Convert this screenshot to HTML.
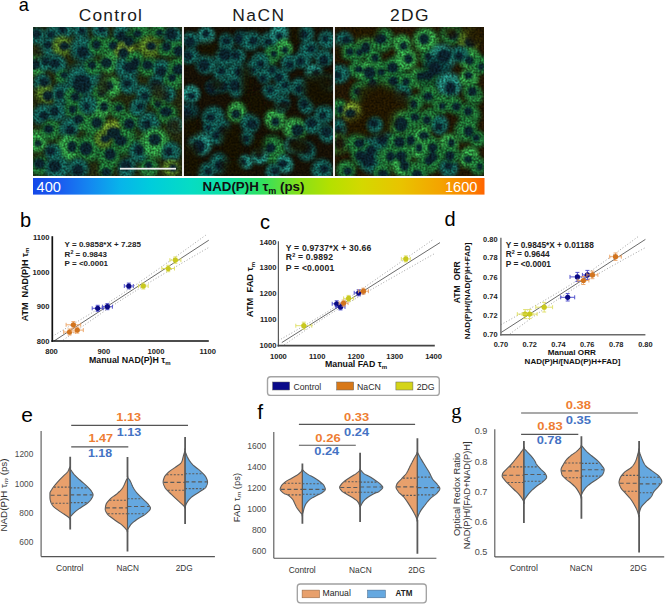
<!DOCTYPE html>
<html><head><meta charset="utf-8"><style>
html,body{margin:0;padding:0;background:#fff;}
body{width:669px;height:605px;overflow:hidden;position:relative;}
svg{position:absolute;left:0;top:0;font-family:"Liberation Sans", sans-serif;}
</style></head><body>
<svg width="669" height="605" viewBox="0 0 669 605">
<defs>
<filter id="blur1" x="-5%" y="-5%" width="110%" height="110%"><feGaussianBlur stdDeviation="1.1"/></filter>
<filter id="blur3" x="-30%" y="-30%" width="160%" height="160%"><feGaussianBlur stdDeviation="3"/></filter>
<filter id="speck" x="0" y="0" width="100%" height="100%"><feTurbulence type="fractalNoise" baseFrequency="0.45" numOctaves="2" seed="3"/><feColorMatrix type="matrix" values="0 0 0 0 0  0 0 0 0 0  0 0 0 0 0  0 0 0 -1.6 1.1"/><feComposite in2="SourceGraphic" operator="in"/></filter>
<radialGradient id="gAc1"><stop offset="0" stop-color="rgb(15,72,72)"/><stop offset="0.65" stop-color="rgb(15,72,72)" stop-opacity="0.92"/><stop offset="1" stop-color="rgb(8,39,39)" stop-opacity="0.3"/></radialGradient>
<radialGradient id="gAc2"><stop offset="0" stop-color="rgb(24,122,112)"/><stop offset="0.65" stop-color="rgb(24,122,112)" stop-opacity="0.92"/><stop offset="1" stop-color="rgb(13,67,61)" stop-opacity="0.3"/></radialGradient>
<radialGradient id="gAc3"><stop offset="0" stop-color="rgb(40,165,150)"/><stop offset="0.65" stop-color="rgb(40,165,150)" stop-opacity="0.92"/><stop offset="1" stop-color="rgb(22,90,82)" stop-opacity="0.3"/></radialGradient>
<radialGradient id="gAg1"><stop offset="0" stop-color="rgb(22,92,48)"/><stop offset="0.65" stop-color="rgb(22,92,48)" stop-opacity="0.92"/><stop offset="1" stop-color="rgb(12,50,26)" stop-opacity="0.3"/></radialGradient>
<radialGradient id="gAg2"><stop offset="0" stop-color="rgb(38,148,68)"/><stop offset="0.65" stop-color="rgb(38,148,68)" stop-opacity="0.92"/><stop offset="1" stop-color="rgb(20,81,37)" stop-opacity="0.3"/></radialGradient>
<radialGradient id="gAg3"><stop offset="0" stop-color="rgb(60,192,85)"/><stop offset="0.65" stop-color="rgb(60,192,85)" stop-opacity="0.92"/><stop offset="1" stop-color="rgb(33,105,46)" stop-opacity="0.3"/></radialGradient>
<radialGradient id="gAy1"><stop offset="0" stop-color="rgb(62,100,30)"/><stop offset="0.65" stop-color="rgb(62,100,30)" stop-opacity="0.92"/><stop offset="1" stop-color="rgb(34,55,16)" stop-opacity="0.3"/></radialGradient>
<radialGradient id="gAy2"><stop offset="0" stop-color="rgb(100,150,42)"/><stop offset="0.65" stop-color="rgb(100,150,42)" stop-opacity="0.92"/><stop offset="1" stop-color="rgb(55,82,23)" stop-opacity="0.3"/></radialGradient>
<radialGradient id="gAy3"><stop offset="0" stop-color="rgb(140,185,50)"/><stop offset="0.65" stop-color="rgb(140,185,50)" stop-opacity="0.92"/><stop offset="1" stop-color="rgb(77,101,27)" stop-opacity="0.3"/></radialGradient>
<filter id="speck" x="0" y="0" width="100%" height="100%"><feTurbulence type="fractalNoise" baseFrequency="0.45" numOctaves="2" seed="3"/><feColorMatrix type="matrix" values="0 0 0 0 0  0 0 0 0 0  0 0 0 0 0  0 0 0 -1.6 1.1"/><feComposite in2="SourceGraphic" operator="in"/></filter>
<radialGradient id="gBc1"><stop offset="0" stop-color="rgb(15,72,72)"/><stop offset="0.65" stop-color="rgb(15,72,72)" stop-opacity="0.92"/><stop offset="1" stop-color="rgb(8,39,39)" stop-opacity="0.3"/></radialGradient>
<radialGradient id="gBc2"><stop offset="0" stop-color="rgb(24,122,112)"/><stop offset="0.65" stop-color="rgb(24,122,112)" stop-opacity="0.92"/><stop offset="1" stop-color="rgb(13,67,61)" stop-opacity="0.3"/></radialGradient>
<radialGradient id="gBc3"><stop offset="0" stop-color="rgb(40,165,150)"/><stop offset="0.65" stop-color="rgb(40,165,150)" stop-opacity="0.92"/><stop offset="1" stop-color="rgb(22,90,82)" stop-opacity="0.3"/></radialGradient>
<radialGradient id="gBg1"><stop offset="0" stop-color="rgb(22,92,48)"/><stop offset="0.65" stop-color="rgb(22,92,48)" stop-opacity="0.92"/><stop offset="1" stop-color="rgb(12,50,26)" stop-opacity="0.3"/></radialGradient>
<radialGradient id="gBg2"><stop offset="0" stop-color="rgb(38,148,68)"/><stop offset="0.65" stop-color="rgb(38,148,68)" stop-opacity="0.92"/><stop offset="1" stop-color="rgb(20,81,37)" stop-opacity="0.3"/></radialGradient>
<radialGradient id="gBg3"><stop offset="0" stop-color="rgb(60,192,85)"/><stop offset="0.65" stop-color="rgb(60,192,85)" stop-opacity="0.92"/><stop offset="1" stop-color="rgb(33,105,46)" stop-opacity="0.3"/></radialGradient>
<radialGradient id="gBy1"><stop offset="0" stop-color="rgb(62,100,30)"/><stop offset="0.65" stop-color="rgb(62,100,30)" stop-opacity="0.92"/><stop offset="1" stop-color="rgb(34,55,16)" stop-opacity="0.3"/></radialGradient>
<radialGradient id="gBy2"><stop offset="0" stop-color="rgb(100,150,42)"/><stop offset="0.65" stop-color="rgb(100,150,42)" stop-opacity="0.92"/><stop offset="1" stop-color="rgb(55,82,23)" stop-opacity="0.3"/></radialGradient>
<radialGradient id="gBy3"><stop offset="0" stop-color="rgb(140,185,50)"/><stop offset="0.65" stop-color="rgb(140,185,50)" stop-opacity="0.92"/><stop offset="1" stop-color="rgb(77,101,27)" stop-opacity="0.3"/></radialGradient>
<filter id="speck" x="0" y="0" width="100%" height="100%"><feTurbulence type="fractalNoise" baseFrequency="0.45" numOctaves="2" seed="3"/><feColorMatrix type="matrix" values="0 0 0 0 0  0 0 0 0 0  0 0 0 0 0  0 0 0 -1.6 1.1"/><feComposite in2="SourceGraphic" operator="in"/></filter>
<radialGradient id="gCc1"><stop offset="0" stop-color="rgb(15,72,72)"/><stop offset="0.65" stop-color="rgb(15,72,72)" stop-opacity="0.92"/><stop offset="1" stop-color="rgb(8,39,39)" stop-opacity="0.3"/></radialGradient>
<radialGradient id="gCc2"><stop offset="0" stop-color="rgb(24,122,112)"/><stop offset="0.65" stop-color="rgb(24,122,112)" stop-opacity="0.92"/><stop offset="1" stop-color="rgb(13,67,61)" stop-opacity="0.3"/></radialGradient>
<radialGradient id="gCc3"><stop offset="0" stop-color="rgb(40,165,150)"/><stop offset="0.65" stop-color="rgb(40,165,150)" stop-opacity="0.92"/><stop offset="1" stop-color="rgb(22,90,82)" stop-opacity="0.3"/></radialGradient>
<radialGradient id="gCg1"><stop offset="0" stop-color="rgb(22,92,48)"/><stop offset="0.65" stop-color="rgb(22,92,48)" stop-opacity="0.92"/><stop offset="1" stop-color="rgb(12,50,26)" stop-opacity="0.3"/></radialGradient>
<radialGradient id="gCg2"><stop offset="0" stop-color="rgb(38,148,68)"/><stop offset="0.65" stop-color="rgb(38,148,68)" stop-opacity="0.92"/><stop offset="1" stop-color="rgb(20,81,37)" stop-opacity="0.3"/></radialGradient>
<radialGradient id="gCg3"><stop offset="0" stop-color="rgb(60,192,85)"/><stop offset="0.65" stop-color="rgb(60,192,85)" stop-opacity="0.92"/><stop offset="1" stop-color="rgb(33,105,46)" stop-opacity="0.3"/></radialGradient>
<radialGradient id="gCy1"><stop offset="0" stop-color="rgb(62,100,30)"/><stop offset="0.65" stop-color="rgb(62,100,30)" stop-opacity="0.92"/><stop offset="1" stop-color="rgb(34,55,16)" stop-opacity="0.3"/></radialGradient>
<radialGradient id="gCy2"><stop offset="0" stop-color="rgb(100,150,42)"/><stop offset="0.65" stop-color="rgb(100,150,42)" stop-opacity="0.92"/><stop offset="1" stop-color="rgb(55,82,23)" stop-opacity="0.3"/></radialGradient>
<radialGradient id="gCy3"><stop offset="0" stop-color="rgb(140,185,50)"/><stop offset="0.65" stop-color="rgb(140,185,50)" stop-opacity="0.92"/><stop offset="1" stop-color="rgb(77,101,27)" stop-opacity="0.3"/></radialGradient>
<clipPath id="clipA"><rect x="33" y="27" width="149" height="149"/></clipPath>
<filter id="granA" x="33" y="27" width="149" height="149" filterUnits="userSpaceOnUse" color-interpolation-filters="sRGB"><feTurbulence type="fractalNoise" baseFrequency="0.5" numOctaves="2" seed="3" result="n"/><feColorMatrix in="n" type="matrix" values="0 0 0 0 0  0 0 0 0 0  0 0 0 0 0  2.2 0 0 0 -0.6" result="na"/><feFlood flood-color="#fff"/><feComposite in2="na" operator="in" result="nw"/><feFlood flood-color="#000" result="blk"/><feComposite in="nw" in2="blk" operator="over" result="ng"/><feComposite in="SourceGraphic" in2="ng" operator="arithmetic" k1="0.6" k2="0.5" k3="0" k4="0"/></filter>
<clipPath id="clipB"><rect x="184" y="27" width="149" height="149"/></clipPath>
<filter id="granB" x="184" y="27" width="149" height="149" filterUnits="userSpaceOnUse" color-interpolation-filters="sRGB"><feTurbulence type="fractalNoise" baseFrequency="0.5" numOctaves="2" seed="8" result="n"/><feColorMatrix in="n" type="matrix" values="0 0 0 0 0  0 0 0 0 0  0 0 0 0 0  2.2 0 0 0 -0.6" result="na"/><feFlood flood-color="#fff"/><feComposite in2="na" operator="in" result="nw"/><feFlood flood-color="#000" result="blk"/><feComposite in="nw" in2="blk" operator="over" result="ng"/><feComposite in="SourceGraphic" in2="ng" operator="arithmetic" k1="0.6" k2="0.5" k3="0" k4="0"/></filter>
<clipPath id="clipC"><rect x="335" y="27" width="149" height="149"/></clipPath>
<filter id="granC" x="335" y="27" width="149" height="149" filterUnits="userSpaceOnUse" color-interpolation-filters="sRGB"><feTurbulence type="fractalNoise" baseFrequency="0.5" numOctaves="2" seed="13" result="n"/><feColorMatrix in="n" type="matrix" values="0 0 0 0 0  0 0 0 0 0  0 0 0 0 0  2.2 0 0 0 -0.6" result="na"/><feFlood flood-color="#fff"/><feComposite in2="na" operator="in" result="nw"/><feFlood flood-color="#000" result="blk"/><feComposite in="nw" in2="blk" operator="over" result="ng"/><feComposite in="SourceGraphic" in2="ng" operator="arithmetic" k1="0.6" k2="0.5" k3="0" k4="0"/></filter>
</defs>
<g clip-path="url(#clipA)">
<g filter="url(#granA)">
<rect x="33" y="27" width="149" height="149" fill="#2a3212"/>
<g filter="url(#blur1)">
<ellipse cx="37.0" cy="36.0" rx="9.8" ry="10.1" transform="rotate(166 37.0 36.0)" fill="url(#gAc2)"/>
<ellipse cx="53.0" cy="34.0" rx="9.9" ry="10.0" transform="rotate(106 53.0 34.0)" fill="url(#gAc2)"/>
<ellipse cx="64.0" cy="31.0" rx="9.1" ry="10.0" transform="rotate(113 64.0 31.0)" fill="url(#gAc2)"/>
<ellipse cx="80.0" cy="31.0" rx="10.7" ry="8.9" transform="rotate(55 80.0 31.0)" fill="url(#gAc2)"/>
<ellipse cx="100.0" cy="31.0" rx="8.9" ry="10.7" transform="rotate(125 100.0 31.0)" fill="url(#gAc2)"/>
<ellipse cx="122.0" cy="34.0" rx="10.2" ry="13.0" transform="rotate(174 122.0 34.0)" fill="url(#gAc2)"/>
<ellipse cx="140.0" cy="33.0" rx="12.1" ry="11.9" transform="rotate(28 140.0 33.0)" fill="url(#gAg2)"/>
<ellipse cx="158.0" cy="31.0" rx="8.7" ry="10.0" transform="rotate(11 158.0 31.0)" fill="url(#gAg2)"/>
<ellipse cx="173.0" cy="36.0" rx="10.7" ry="10.8" transform="rotate(5 173.0 36.0)" fill="url(#gAc2)"/>
<ellipse cx="49.0" cy="47.0" rx="11.5" ry="11.4" transform="rotate(152 49.0 47.0)" fill="url(#gAc2)"/>
<ellipse cx="62.0" cy="46.0" rx="11.7" ry="12.0" transform="rotate(90 62.0 46.0)" fill="url(#gAy2)"/>
<ellipse cx="83.0" cy="49.0" rx="15.5" ry="14.8" transform="rotate(50 83.0 49.0)" fill="url(#gAc2)"/>
<ellipse cx="98.0" cy="46.0" rx="11.2" ry="11.2" transform="rotate(151 98.0 46.0)" fill="url(#gAg2)"/>
<ellipse cx="111.0" cy="47.0" rx="12.2" ry="11.1" transform="rotate(41 111.0 47.0)" fill="url(#gAg2)"/>
<ellipse cx="127.0" cy="40.0" rx="11.0" ry="10.3" transform="rotate(138 127.0 40.0)" fill="url(#gAg1)"/>
<ellipse cx="125.0" cy="51.0" rx="11.3" ry="12.6" transform="rotate(70 125.0 51.0)" fill="url(#gAy3)"/>
<ellipse cx="149.0" cy="47.0" rx="13.0" ry="12.6" transform="rotate(0 149.0 47.0)" fill="url(#gAy2)"/>
<ellipse cx="167.0" cy="49.0" rx="9.2" ry="11.0" transform="rotate(85 167.0 49.0)" fill="url(#gAg2)"/>
<ellipse cx="178.0" cy="49.0" rx="11.2" ry="9.7" transform="rotate(13 178.0 49.0)" fill="url(#gAg2)"/>
<ellipse cx="37.0" cy="65.0" rx="12.0" ry="12.4" transform="rotate(49 37.0 65.0)" fill="url(#gAg3)"/>
<ellipse cx="44.0" cy="63.0" rx="8.9" ry="9.5" transform="rotate(174 44.0 63.0)" fill="url(#gAc2)"/>
<ellipse cx="57.0" cy="64.0" rx="12.4" ry="10.5" transform="rotate(44 57.0 64.0)" fill="url(#gAc2)"/>
<ellipse cx="63.0" cy="77.0" rx="8.9" ry="8.8" transform="rotate(143 63.0 77.0)" fill="url(#gAg2)"/>
<ellipse cx="84.0" cy="80.0" rx="19.8" ry="21.9" transform="rotate(81 84.0 80.0)" fill="url(#gAc2)"/>
<ellipse cx="109.0" cy="63.0" rx="10.7" ry="12.3" transform="rotate(24 109.0 63.0)" fill="url(#gAg3)"/>
<ellipse cx="127.0" cy="68.0" rx="15.5" ry="13.5" transform="rotate(76 127.0 68.0)" fill="url(#gAc2)"/>
<ellipse cx="135.0" cy="60.0" rx="10.7" ry="10.9" transform="rotate(175 135.0 60.0)" fill="url(#gAg2)"/>
<ellipse cx="149.0" cy="67.0" rx="12.5" ry="11.0" transform="rotate(159 149.0 67.0)" fill="url(#gAg2)"/>
<ellipse cx="162.0" cy="69.0" rx="10.7" ry="11.3" transform="rotate(154 162.0 69.0)" fill="url(#gAc2)"/>
<ellipse cx="178.0" cy="67.0" rx="12.0" ry="10.4" transform="rotate(178 178.0 67.0)" fill="url(#gAg2)"/>
<ellipse cx="111.0" cy="87.0" rx="12.3" ry="12.4" transform="rotate(139 111.0 87.0)" fill="url(#gAg3)"/>
<ellipse cx="129.0" cy="85.0" rx="11.1" ry="11.0" transform="rotate(13 129.0 85.0)" fill="url(#gAc2)"/>
<ellipse cx="158.0" cy="83.0" rx="10.4" ry="11.8" transform="rotate(44 158.0 83.0)" fill="url(#gAc2)"/>
<ellipse cx="173.0" cy="80.0" rx="11.9" ry="11.2" transform="rotate(82 173.0 80.0)" fill="url(#gAg2)"/>
<ellipse cx="42.0" cy="83.0" rx="11.1" ry="9.9" transform="rotate(103 42.0 83.0)" fill="url(#gAc2)"/>
<ellipse cx="46.0" cy="94.0" rx="12.7" ry="10.7" transform="rotate(28 46.0 94.0)" fill="url(#gAy2)"/>
<ellipse cx="62.0" cy="94.0" rx="12.8" ry="12.5" transform="rotate(45 62.0 94.0)" fill="url(#gAc2)"/>
<ellipse cx="100.0" cy="94.0" rx="9.2" ry="10.6" transform="rotate(169 100.0 94.0)" fill="url(#gAg2)"/>
<ellipse cx="144.0" cy="94.0" rx="9.2" ry="11.1" transform="rotate(159 144.0 94.0)" fill="url(#gAc2)"/>
<ellipse cx="167.0" cy="94.0" rx="10.2" ry="9.7" transform="rotate(19 167.0 94.0)" fill="url(#gAc2)"/>
<ellipse cx="42.0" cy="114.0" rx="10.2" ry="13.0" transform="rotate(43 42.0 114.0)" fill="url(#gAc2)"/>
<ellipse cx="57.0" cy="112.0" rx="12.2" ry="10.9" transform="rotate(148 57.0 112.0)" fill="url(#gAc2)"/>
<ellipse cx="75.0" cy="110.0" rx="11.9" ry="11.0" transform="rotate(32 75.0 110.0)" fill="url(#gAg2)"/>
<ellipse cx="80.0" cy="121.0" rx="12.3" ry="10.3" transform="rotate(41 80.0 121.0)" fill="url(#gAg3)"/>
<ellipse cx="95.0" cy="125.0" rx="13.5" ry="14.5" transform="rotate(111 95.0 125.0)" fill="url(#gAg2)"/>
<ellipse cx="102.0" cy="108.0" rx="10.9" ry="12.8" transform="rotate(37 102.0 108.0)" fill="url(#gAg3)"/>
<ellipse cx="113.0" cy="130.0" rx="11.6" ry="12.5" transform="rotate(80 113.0 130.0)" fill="url(#gAy3)"/>
<ellipse cx="129.0" cy="121.0" rx="11.8" ry="12.2" transform="rotate(66 129.0 121.0)" fill="url(#gAg2)"/>
<ellipse cx="118.0" cy="110.0" rx="10.1" ry="9.0" transform="rotate(65 118.0 110.0)" fill="url(#gAg2)"/>
<ellipse cx="149.0" cy="123.0" rx="12.8" ry="13.0" transform="rotate(118 149.0 123.0)" fill="url(#gAc2)"/>
<ellipse cx="167.0" cy="114.0" rx="12.2" ry="11.9" transform="rotate(25 167.0 114.0)" fill="url(#gAg2)"/>
<ellipse cx="176.0" cy="125.0" rx="8.8" ry="8.7" transform="rotate(164 176.0 125.0)" fill="url(#gAc3)"/>
<ellipse cx="37.0" cy="141.0" rx="12.2" ry="13.0" transform="rotate(4 37.0 141.0)" fill="url(#gAg3)"/>
<ellipse cx="51.0" cy="130.0" rx="12.0" ry="11.5" transform="rotate(131 51.0 130.0)" fill="url(#gAg2)"/>
<ellipse cx="69.0" cy="128.0" rx="11.1" ry="13.1" transform="rotate(14 69.0 128.0)" fill="url(#gAc2)"/>
<ellipse cx="69.0" cy="148.0" rx="15.1" ry="15.8" transform="rotate(162 69.0 148.0)" fill="url(#gAg3)"/>
<ellipse cx="89.0" cy="148.0" rx="15.8" ry="15.7" transform="rotate(143 89.0 148.0)" fill="url(#gAg2)"/>
<ellipse cx="124.0" cy="141.0" rx="16.5" ry="14.4" transform="rotate(123 124.0 141.0)" fill="url(#gAg2)"/>
<ellipse cx="140.0" cy="152.0" rx="12.8" ry="12.7" transform="rotate(75 140.0 152.0)" fill="url(#gAc2)"/>
<ellipse cx="155.0" cy="143.0" rx="17.8" ry="18.1" transform="rotate(103 155.0 143.0)" fill="url(#gAg3)"/>
<ellipse cx="171.0" cy="152.0" rx="12.0" ry="11.3" transform="rotate(105 171.0 152.0)" fill="url(#gAc2)"/>
<ellipse cx="40.0" cy="166.0" rx="11.9" ry="10.4" transform="rotate(115 40.0 166.0)" fill="url(#gAg2)"/>
<ellipse cx="57.0" cy="168.0" rx="14.9" ry="14.6" transform="rotate(131 57.0 168.0)" fill="url(#gAc2)"/>
<ellipse cx="78.0" cy="168.0" rx="11.3" ry="12.3" transform="rotate(105 78.0 168.0)" fill="url(#gAc2)"/>
<ellipse cx="109.0" cy="157.0" rx="13.1" ry="14.4" transform="rotate(15 109.0 157.0)" fill="url(#gAg2)"/>
<ellipse cx="127.0" cy="168.0" rx="12.3" ry="10.2" transform="rotate(108 127.0 168.0)" fill="url(#gAc2)"/>
<ellipse cx="149.0" cy="168.0" rx="11.5" ry="10.8" transform="rotate(126 149.0 168.0)" fill="url(#gAg2)"/>
<ellipse cx="171.0" cy="168.0" rx="9.9" ry="10.2" transform="rotate(166 171.0 168.0)" fill="url(#gAy2)"/>
<ellipse cx="106.0" cy="170.0" rx="9.3" ry="8.7" transform="rotate(54 106.0 170.0)" fill="url(#gAg2)"/>
<ellipse cx="93.0" cy="67.0" rx="10.4" ry="9.2" transform="rotate(31 93.0 67.0)" fill="url(#gAg2)"/>
<ellipse cx="73.0" cy="97.0" rx="11.0" ry="10.4" transform="rotate(80 73.0 97.0)" fill="url(#gAg2)"/>
<ellipse cx="138.0" cy="107.0" rx="10.9" ry="9.5" transform="rotate(120 138.0 107.0)" fill="url(#gAc2)"/>
<ellipse cx="158.0" cy="102.0" rx="9.2" ry="9.8" transform="rotate(145 158.0 102.0)" fill="url(#gAg2)"/>
<ellipse cx="88.0" cy="105.0" rx="11.0" ry="10.9" transform="rotate(69 88.0 105.0)" fill="url(#gAc2)"/>
<ellipse cx="53.0" cy="152.0" rx="10.2" ry="9.5" transform="rotate(25 53.0 152.0)" fill="url(#gAc2)"/>
<ellipse cx="103.0" cy="139.0" rx="9.9" ry="10.8" transform="rotate(153 103.0 139.0)" fill="url(#gAy2)"/>
<ellipse cx="36.5" cy="34.0" rx="4.9" ry="4.7" fill="rgb(8,38,52)" opacity="0.95"/>
<ellipse cx="51.0" cy="34.6" rx="3.8" ry="4.0" fill="rgb(8,38,52)" opacity="0.95"/>
<ellipse cx="62.5" cy="29.5" rx="4.2" ry="4.8" fill="rgb(8,38,52)" opacity="0.95"/>
<ellipse cx="82.1" cy="30.8" rx="3.9" ry="3.9" fill="rgb(8,38,52)" opacity="0.95"/>
<ellipse cx="101.5" cy="29.5" rx="3.9" ry="3.8" fill="rgb(8,38,52)" opacity="0.95"/>
<ellipse cx="121.1" cy="36.3" rx="5.1" ry="5.2" fill="rgb(8,38,52)" opacity="0.95"/>
<ellipse cx="137.6" cy="33.7" rx="4.7" ry="4.1" fill="rgb(8,38,52)" opacity="0.95"/>
<ellipse cx="159.3" cy="32.6" rx="3.9" ry="3.7" fill="rgb(8,38,52)" opacity="0.95"/>
<ellipse cx="171.3" cy="34.2" rx="5.9" ry="6.1" fill="rgb(8,38,52)" opacity="0.95"/>
<ellipse cx="48.0" cy="44.8" rx="4.6" ry="4.3" fill="rgb(8,38,52)" opacity="0.95"/>
<ellipse cx="64.4" cy="46.2" rx="5.4" ry="4.7" fill="rgb(8,38,52)" opacity="0.95"/>
<ellipse cx="82.6" cy="52.1" rx="6.6" ry="6.4" fill="rgb(8,38,52)" opacity="0.95"/>
<ellipse cx="96.4" cy="44.6" rx="4.7" ry="5.2" fill="rgb(8,38,52)" opacity="0.95"/>
<ellipse cx="113.0" cy="45.6" rx="4.9" ry="4.7" fill="rgb(8,38,52)" opacity="0.95"/>
<ellipse cx="128.7" cy="41.8" rx="5.3" ry="5.6" fill="rgb(8,38,52)" opacity="0.95"/>
<ellipse cx="123.3" cy="52.7" rx="5.8" ry="5.7" fill="rgb(8,38,52)" opacity="0.95"/>
<ellipse cx="151.3" cy="46.2" rx="5.3" ry="4.8" fill="rgb(8,38,52)" opacity="0.95"/>
<ellipse cx="166.6" cy="46.9" rx="5.1" ry="5.2" fill="rgb(8,38,52)" opacity="0.95"/>
<ellipse cx="178.5" cy="51.0" rx="5.7" ry="5.7" fill="rgb(8,38,52)" opacity="0.95"/>
<ellipse cx="34.6" cy="64.4" rx="5.5" ry="6.3" fill="rgb(8,38,52)" opacity="0.95"/>
<ellipse cx="45.3" cy="61.3" rx="3.8" ry="4.2" fill="rgb(8,38,52)" opacity="0.95"/>
<ellipse cx="54.7" cy="63.2" rx="5.7" ry="5.0" fill="rgb(8,38,52)" opacity="0.95"/>
<ellipse cx="63.8" cy="75.0" rx="4.1" ry="3.5" fill="rgb(8,38,52)" opacity="0.95"/>
<ellipse cx="81.7" cy="83.9" rx="9.7" ry="9.7" fill="rgb(8,38,52)" opacity="0.95"/>
<ellipse cx="106.6" cy="62.8" rx="6.1" ry="5.9" fill="rgb(8,38,52)" opacity="0.95"/>
<ellipse cx="130.0" cy="66.9" rx="7.4" ry="6.0" fill="rgb(8,38,52)" opacity="0.95"/>
<ellipse cx="135.4" cy="62.4" rx="5.0" ry="5.5" fill="rgb(8,38,52)" opacity="0.95"/>
<ellipse cx="147.4" cy="65.1" rx="5.7" ry="5.3" fill="rgb(8,38,52)" opacity="0.95"/>
<ellipse cx="161.1" cy="71.3" rx="5.4" ry="5.5" fill="rgb(8,38,52)" opacity="0.95"/>
<ellipse cx="178.6" cy="69.4" rx="6.5" ry="5.9" fill="rgb(8,38,52)" opacity="0.95"/>
<ellipse cx="108.5" cy="85.8" rx="5.4" ry="5.3" fill="rgb(8,38,52)" opacity="0.95"/>
<ellipse cx="127.1" cy="83.5" rx="4.9" ry="4.4" fill="rgb(8,38,52)" opacity="0.95"/>
<ellipse cx="156.0" cy="84.4" rx="5.8" ry="5.7" fill="rgb(8,38,52)" opacity="0.95"/>
<ellipse cx="172.1" cy="77.7" rx="4.5" ry="4.3" fill="rgb(8,38,52)" opacity="0.95"/>
<ellipse cx="44.0" cy="82.4" rx="4.8" ry="5.1" fill="rgb(8,38,52)" opacity="0.95"/>
<ellipse cx="47.7" cy="95.8" rx="5.5" ry="5.6" fill="rgb(8,38,52)" opacity="0.95"/>
<ellipse cx="59.6" cy="94.4" rx="4.5" ry="5.0" fill="rgb(8,38,52)" opacity="0.95"/>
<ellipse cx="101.9" cy="93.0" rx="4.2" ry="3.4" fill="rgb(8,38,52)" opacity="0.95"/>
<ellipse cx="144.7" cy="96.0" rx="4.2" ry="3.9" fill="rgb(8,38,52)" opacity="0.95"/>
<ellipse cx="165.7" cy="95.7" rx="4.2" ry="4.9" fill="rgb(8,38,52)" opacity="0.95"/>
<ellipse cx="43.8" cy="115.7" rx="4.9" ry="4.8" fill="rgb(8,38,52)" opacity="0.95"/>
<ellipse cx="54.6" cy="111.5" rx="4.9" ry="5.0" fill="rgb(8,38,52)" opacity="0.95"/>
<ellipse cx="72.6" cy="109.6" rx="4.3" ry="4.7" fill="rgb(8,38,52)" opacity="0.95"/>
<ellipse cx="78.4" cy="119.1" rx="5.7" ry="5.4" fill="rgb(8,38,52)" opacity="0.95"/>
<ellipse cx="96.7" cy="122.8" rx="5.7" ry="5.8" fill="rgb(8,38,52)" opacity="0.95"/>
<ellipse cx="104.0" cy="106.6" rx="4.7" ry="5.4" fill="rgb(8,38,52)" opacity="0.95"/>
<ellipse cx="113.6" cy="132.7" rx="7.6" ry="6.3" fill="rgb(8,38,52)" opacity="0.95"/>
<ellipse cx="129.2" cy="123.8" rx="6.0" ry="5.8" fill="rgb(8,38,52)" opacity="0.95"/>
<ellipse cx="119.0" cy="108.2" rx="4.6" ry="3.9" fill="rgb(8,38,52)" opacity="0.95"/>
<ellipse cx="147.0" cy="124.4" rx="4.9" ry="5.1" fill="rgb(8,38,52)" opacity="0.95"/>
<ellipse cx="166.0" cy="111.8" rx="6.6" ry="5.4" fill="rgb(8,38,52)" opacity="0.95"/>
<ellipse cx="173.9" cy="124.9" rx="4.9" ry="5.1" fill="rgb(8,38,52)" opacity="0.95"/>
<ellipse cx="37.9" cy="143.3" rx="4.0" ry="3.9" fill="rgb(8,38,52)" opacity="0.95"/>
<ellipse cx="48.7" cy="129.2" rx="5.3" ry="4.8" fill="rgb(8,38,52)" opacity="0.95"/>
<ellipse cx="70.0" cy="130.2" rx="5.1" ry="5.2" fill="rgb(8,38,52)" opacity="0.95"/>
<ellipse cx="71.8" cy="146.6" rx="5.1" ry="6.4" fill="rgb(8,38,52)" opacity="0.95"/>
<ellipse cx="85.9" cy="148.7" rx="7.0" ry="7.2" fill="rgb(8,38,52)" opacity="0.95"/>
<ellipse cx="120.9" cy="140.7" rx="6.7" ry="5.8" fill="rgb(8,38,52)" opacity="0.95"/>
<ellipse cx="139.3" cy="149.7" rx="5.4" ry="5.8" fill="rgb(8,38,52)" opacity="0.95"/>
<ellipse cx="154.8" cy="139.5" rx="6.7" ry="6.6" fill="rgb(8,38,52)" opacity="0.95"/>
<ellipse cx="168.6" cy="151.8" rx="4.7" ry="4.7" fill="rgb(8,38,52)" opacity="0.95"/>
<ellipse cx="39.3" cy="163.7" rx="6.0" ry="5.7" fill="rgb(8,38,52)" opacity="0.95"/>
<ellipse cx="54.7" cy="166.4" rx="6.7" ry="6.4" fill="rgb(8,38,52)" opacity="0.95"/>
<ellipse cx="77.9" cy="170.4" rx="6.3" ry="6.3" fill="rgb(8,38,52)" opacity="0.95"/>
<ellipse cx="110.1" cy="154.4" rx="6.3" ry="6.3" fill="rgb(8,38,52)" opacity="0.95"/>
<ellipse cx="126.2" cy="165.7" rx="6.0" ry="5.6" fill="rgb(8,38,52)" opacity="0.95"/>
<ellipse cx="148.6" cy="165.6" rx="4.3" ry="4.4" fill="rgb(8,38,52)" opacity="0.95"/>
<ellipse cx="173.1" cy="168.1" rx="4.4" ry="4.4" fill="rgb(8,38,52)" opacity="0.95"/>
<ellipse cx="106.2" cy="172.1" rx="5.4" ry="4.9" fill="rgb(8,38,52)" opacity="0.95"/>
<ellipse cx="91.9" cy="65.2" rx="4.6" ry="4.4" fill="rgb(8,38,52)" opacity="0.95"/>
<ellipse cx="75.1" cy="97.0" rx="4.9" ry="5.0" fill="rgb(8,38,52)" opacity="0.95"/>
<ellipse cx="140.1" cy="106.7" rx="3.8" ry="3.9" fill="rgb(8,38,52)" opacity="0.95"/>
<ellipse cx="157.9" cy="104.1" rx="3.8" ry="4.0" fill="rgb(8,38,52)" opacity="0.95"/>
<ellipse cx="86.5" cy="106.5" rx="3.6" ry="4.2" fill="rgb(8,38,52)" opacity="0.95"/>
<ellipse cx="51.0" cy="151.4" rx="5.0" ry="4.5" fill="rgb(8,38,52)" opacity="0.95"/>
<ellipse cx="105.1" cy="138.9" rx="5.0" ry="4.2" fill="rgb(8,38,52)" opacity="0.95"/>
</g>
<polygon points="99.5,76.3 106.9,73.8 108.1,91.0 102.0,98.4 97.0,88.6" fill="#2a3212" opacity="0.9" filter="url(#blur3)"/>
<polygon points="151.2,83.6 166.0,84.9 166.0,100.9 153.7,100.9" fill="#2a3212" opacity="0.9" filter="url(#blur3)"/>
<polygon points="33.0,46.7 42.9,47.9 41.6,59.0 33.0,57.8" fill="#2a3212" opacity="0.9" filter="url(#blur3)"/>
<polygon points="166.0,120.6 182.0,118.1 182.0,137.8 170.9,135.4" fill="#2a3212" opacity="0.9" filter="url(#blur3)"/>
</g>
</g>
<g clip-path="url(#clipB)">
<g filter="url(#granB)">
<rect x="184" y="27" width="149" height="149" fill="#1c1406"/>
<g filter="url(#blur1)">
<ellipse cx="206.0" cy="36.0" rx="10.5" ry="10.9" transform="rotate(8 206.0 36.0)" fill="url(#gBc3)"/>
<ellipse cx="226.0" cy="43.0" rx="11.4" ry="9.3" transform="rotate(85 226.0 43.0)" fill="url(#gBc2)"/>
<ellipse cx="191.0" cy="40.0" rx="9.4" ry="10.2" transform="rotate(110 191.0 40.0)" fill="url(#gBc2)"/>
<ellipse cx="190.0" cy="56.0" rx="9.1" ry="11.4" transform="rotate(76 190.0 56.0)" fill="url(#gBc2)"/>
<ellipse cx="206.0" cy="64.0" rx="12.0" ry="12.2" transform="rotate(66 206.0 64.0)" fill="url(#gBc2)"/>
<ellipse cx="224.0" cy="57.0" rx="11.3" ry="12.4" transform="rotate(101 224.0 57.0)" fill="url(#gBc2)"/>
<ellipse cx="237.0" cy="57.0" rx="9.7" ry="10.8" transform="rotate(53 237.0 57.0)" fill="url(#gBc2)"/>
<ellipse cx="241.0" cy="38.0" rx="9.0" ry="9.6" transform="rotate(8 241.0 38.0)" fill="url(#gBc1)"/>
<ellipse cx="251.0" cy="41.0" rx="10.9" ry="12.7" transform="rotate(70 251.0 41.0)" fill="url(#gBc2)"/>
<ellipse cx="270.0" cy="41.0" rx="11.3" ry="10.9" transform="rotate(9 270.0 41.0)" fill="url(#gBc2)"/>
<ellipse cx="280.0" cy="34.0" rx="11.5" ry="11.4" transform="rotate(13 280.0 34.0)" fill="url(#gBc3)"/>
<ellipse cx="284.0" cy="48.0" rx="11.3" ry="10.1" transform="rotate(86 284.0 48.0)" fill="url(#gBg3)"/>
<ellipse cx="272.0" cy="55.0" rx="11.5" ry="9.6" transform="rotate(94 272.0 55.0)" fill="url(#gBg2)"/>
<ellipse cx="260.0" cy="62.0" rx="11.4" ry="10.8" transform="rotate(84 260.0 62.0)" fill="url(#gBc2)"/>
<ellipse cx="253.0" cy="68.0" rx="9.6" ry="9.2" transform="rotate(109 253.0 68.0)" fill="url(#gBc2)"/>
<ellipse cx="272.0" cy="72.0" rx="7.7" ry="8.8" transform="rotate(82 272.0 72.0)" fill="url(#gBc2)"/>
<ellipse cx="281.0" cy="77.0" rx="9.5" ry="9.1" transform="rotate(95 281.0 77.0)" fill="url(#gBc2)"/>
<ellipse cx="264.0" cy="77.0" rx="7.7" ry="8.4" transform="rotate(120 264.0 77.0)" fill="url(#gBc2)"/>
<ellipse cx="289.0" cy="63.0" rx="10.1" ry="9.6" transform="rotate(105 289.0 63.0)" fill="url(#gBc2)"/>
<ellipse cx="302.0" cy="60.0" rx="10.0" ry="11.0" transform="rotate(96 302.0 60.0)" fill="url(#gBc2)"/>
<ellipse cx="309.0" cy="49.0" rx="11.5" ry="11.4" transform="rotate(132 309.0 49.0)" fill="url(#gBc2)"/>
<ellipse cx="306.0" cy="34.0" rx="9.6" ry="9.2" transform="rotate(161 306.0 34.0)" fill="url(#gBc2)"/>
<ellipse cx="327.0" cy="40.0" rx="11.0" ry="10.6" transform="rotate(65 327.0 40.0)" fill="url(#gBc2)"/>
<ellipse cx="324.0" cy="58.0" rx="9.6" ry="10.7" transform="rotate(102 324.0 58.0)" fill="url(#gBc2)"/>
<ellipse cx="314.0" cy="73.0" rx="10.5" ry="10.6" transform="rotate(136 314.0 73.0)" fill="url(#gBc3)"/>
<ellipse cx="221.0" cy="73.0" rx="9.4" ry="9.6" transform="rotate(176 221.0 73.0)" fill="url(#gBc2)"/>
<ellipse cx="237.0" cy="74.0" rx="13.2" ry="13.1" transform="rotate(7 237.0 74.0)" fill="url(#gBc2)"/>
<ellipse cx="222.0" cy="85.0" rx="9.1" ry="9.6" transform="rotate(77 222.0 85.0)" fill="url(#gBc2)"/>
<ellipse cx="237.0" cy="87.0" rx="12.3" ry="10.7" transform="rotate(97 237.0 87.0)" fill="url(#gBc2)"/>
<ellipse cx="213.0" cy="87.0" rx="9.1" ry="9.2" transform="rotate(122 213.0 87.0)" fill="url(#gBc1)"/>
<ellipse cx="191.0" cy="94.0" rx="10.4" ry="10.6" transform="rotate(67 191.0 94.0)" fill="url(#gBc3)"/>
<ellipse cx="284.0" cy="87.0" rx="10.2" ry="9.5" transform="rotate(62 284.0 87.0)" fill="url(#gBc2)"/>
<ellipse cx="300.0" cy="87.0" rx="10.9" ry="11.1" transform="rotate(13 300.0 87.0)" fill="url(#gBc2)"/>
<ellipse cx="271.0" cy="92.0" rx="9.2" ry="11.0" transform="rotate(112 271.0 92.0)" fill="url(#gBc2)"/>
<ellipse cx="327.0" cy="83.0" rx="10.9" ry="9.5" transform="rotate(76 327.0 83.0)" fill="url(#gBc2)"/>
<ellipse cx="188.0" cy="112.0" rx="11.2" ry="12.9" transform="rotate(66 188.0 112.0)" fill="url(#gBc1)"/>
<ellipse cx="213.0" cy="117.0" rx="12.4" ry="13.4" transform="rotate(59 213.0 117.0)" fill="url(#gBc2)"/>
<ellipse cx="222.0" cy="128.0" rx="10.4" ry="10.9" transform="rotate(166 222.0 128.0)" fill="url(#gBc2)"/>
<ellipse cx="210.0" cy="128.0" rx="8.4" ry="8.2" transform="rotate(17 210.0 128.0)" fill="url(#gBc2)"/>
<ellipse cx="217.0" cy="137.0" rx="11.2" ry="9.1" transform="rotate(15 217.0 137.0)" fill="url(#gBc2)"/>
<ellipse cx="200.0" cy="144.0" rx="13.9" ry="13.6" transform="rotate(123 200.0 144.0)" fill="url(#gBc3)"/>
<ellipse cx="237.0" cy="112.0" rx="11.3" ry="12.8" transform="rotate(14 237.0 112.0)" fill="url(#gBg3)"/>
<ellipse cx="250.0" cy="123.0" rx="11.1" ry="12.4" transform="rotate(15 250.0 123.0)" fill="url(#gBc2)"/>
<ellipse cx="247.0" cy="138.0" rx="8.1" ry="9.0" transform="rotate(125 247.0 138.0)" fill="url(#gBc2)"/>
<ellipse cx="275.0" cy="119.0" rx="12.9" ry="12.4" transform="rotate(64 275.0 119.0)" fill="url(#gBg3)"/>
<ellipse cx="295.0" cy="129.0" rx="14.4" ry="13.2" transform="rotate(21 295.0 129.0)" fill="url(#gBg3)"/>
<ellipse cx="313.0" cy="125.0" rx="10.8" ry="10.4" transform="rotate(165 313.0 125.0)" fill="url(#gBc2)"/>
<ellipse cx="324.0" cy="114.0" rx="11.4" ry="11.3" transform="rotate(79 324.0 114.0)" fill="url(#gBc2)"/>
<ellipse cx="327.0" cy="134.0" rx="11.0" ry="9.7" transform="rotate(57 327.0 134.0)" fill="url(#gBc2)"/>
<ellipse cx="273.0" cy="150.0" rx="15.0" ry="17.1" transform="rotate(161 273.0 150.0)" fill="url(#gBg2)"/>
<ellipse cx="260.0" cy="156.0" rx="9.6" ry="9.9" transform="rotate(66 260.0 156.0)" fill="url(#gBc3)"/>
<ellipse cx="293.0" cy="145.0" rx="9.9" ry="10.0" transform="rotate(70 293.0 145.0)" fill="url(#gBc3)"/>
<ellipse cx="306.0" cy="151.0" rx="11.0" ry="12.1" transform="rotate(143 306.0 151.0)" fill="url(#gBc2)"/>
<ellipse cx="245.0" cy="162.0" rx="8.6" ry="9.3" transform="rotate(101 245.0 162.0)" fill="url(#gBc3)"/>
<ellipse cx="285.0" cy="164.0" rx="9.4" ry="10.9" transform="rotate(159 285.0 164.0)" fill="url(#gBc3)"/>
<ellipse cx="273.0" cy="172.0" rx="9.7" ry="9.0" transform="rotate(93 273.0 172.0)" fill="url(#gBc2)"/>
<ellipse cx="220.0" cy="163.0" rx="12.1" ry="12.2" transform="rotate(174 220.0 163.0)" fill="url(#gBc2)"/>
<ellipse cx="322.0" cy="170.0" rx="12.4" ry="12.9" transform="rotate(12 322.0 170.0)" fill="url(#gBc2)"/>
<ellipse cx="206.0" cy="172.0" rx="10.4" ry="11.0" transform="rotate(15 206.0 172.0)" fill="url(#gBc2)"/>
<ellipse cx="306.0" cy="105.0" rx="9.1" ry="10.9" transform="rotate(162 306.0 105.0)" fill="url(#gBc2)"/>
<ellipse cx="282.0" cy="104.0" rx="9.1" ry="10.6" transform="rotate(26 282.0 104.0)" fill="url(#gBc2)"/>
<ellipse cx="205.9" cy="33.9" rx="4.4" ry="4.4" fill="rgb(8,38,52)" opacity="0.95"/>
<ellipse cx="226.2" cy="40.9" rx="4.8" ry="4.4" fill="rgb(8,38,52)" opacity="0.95"/>
<ellipse cx="189.9" cy="41.8" rx="5.4" ry="5.2" fill="rgb(8,38,52)" opacity="0.95"/>
<ellipse cx="188.0" cy="55.5" rx="5.0" ry="5.3" fill="rgb(8,38,52)" opacity="0.95"/>
<ellipse cx="203.9" cy="65.3" rx="6.0" ry="6.3" fill="rgb(8,38,52)" opacity="0.95"/>
<ellipse cx="224.8" cy="54.7" rx="6.4" ry="6.4" fill="rgb(8,38,52)" opacity="0.95"/>
<ellipse cx="235.7" cy="55.4" rx="4.7" ry="4.8" fill="rgb(8,38,52)" opacity="0.95"/>
<ellipse cx="239.2" cy="39.0" rx="4.0" ry="4.6" fill="rgb(8,38,52)" opacity="0.95"/>
<ellipse cx="253.4" cy="40.9" rx="4.6" ry="4.6" fill="rgb(8,38,52)" opacity="0.95"/>
<ellipse cx="268.1" cy="42.0" rx="4.6" ry="3.7" fill="rgb(8,38,52)" opacity="0.95"/>
<ellipse cx="279.2" cy="36.0" rx="4.0" ry="4.1" fill="rgb(8,38,52)" opacity="0.95"/>
<ellipse cx="284.9" cy="49.9" rx="3.7" ry="3.9" fill="rgb(8,38,52)" opacity="0.95"/>
<ellipse cx="273.8" cy="53.9" rx="3.4" ry="3.5" fill="rgb(8,38,52)" opacity="0.95"/>
<ellipse cx="260.4" cy="64.1" rx="4.3" ry="4.1" fill="rgb(8,38,52)" opacity="0.95"/>
<ellipse cx="253.3" cy="69.7" rx="3.1" ry="3.0" fill="rgb(8,38,52)" opacity="0.95"/>
<ellipse cx="272.1" cy="70.3" rx="3.5" ry="3.7" fill="rgb(8,38,52)" opacity="0.95"/>
<ellipse cx="278.9" cy="77.3" rx="4.5" ry="4.5" fill="rgb(8,38,52)" opacity="0.95"/>
<ellipse cx="263.0" cy="78.5" rx="4.2" ry="3.8" fill="rgb(8,38,52)" opacity="0.95"/>
<ellipse cx="289.4" cy="65.1" rx="4.2" ry="4.0" fill="rgb(8,38,52)" opacity="0.95"/>
<ellipse cx="300.4" cy="61.4" rx="4.5" ry="4.3" fill="rgb(8,38,52)" opacity="0.95"/>
<ellipse cx="311.1" cy="48.9" rx="4.4" ry="4.1" fill="rgb(8,38,52)" opacity="0.95"/>
<ellipse cx="303.9" cy="34.4" rx="4.6" ry="4.5" fill="rgb(8,38,52)" opacity="0.95"/>
<ellipse cx="325.3" cy="38.7" rx="3.6" ry="3.8" fill="rgb(8,38,52)" opacity="0.95"/>
<ellipse cx="323.9" cy="60.1" rx="5.0" ry="5.2" fill="rgb(8,38,52)" opacity="0.95"/>
<ellipse cx="316.1" cy="72.9" rx="4.1" ry="3.8" fill="rgb(8,38,52)" opacity="0.95"/>
<ellipse cx="221.3" cy="70.9" rx="4.0" ry="4.0" fill="rgb(8,38,52)" opacity="0.95"/>
<ellipse cx="238.1" cy="71.8" rx="4.2" ry="4.7" fill="rgb(8,38,52)" opacity="0.95"/>
<ellipse cx="223.7" cy="86.2" rx="4.4" ry="4.9" fill="rgb(8,38,52)" opacity="0.95"/>
<ellipse cx="234.9" cy="85.7" rx="5.6" ry="6.3" fill="rgb(8,38,52)" opacity="0.95"/>
<ellipse cx="211.2" cy="88.0" rx="4.6" ry="5.5" fill="rgb(8,38,52)" opacity="0.95"/>
<ellipse cx="191.5" cy="96.0" rx="4.6" ry="4.1" fill="rgb(8,38,52)" opacity="0.95"/>
<ellipse cx="285.0" cy="85.2" rx="4.0" ry="3.7" fill="rgb(8,38,52)" opacity="0.95"/>
<ellipse cx="299.3" cy="89.0" rx="4.6" ry="4.3" fill="rgb(8,38,52)" opacity="0.95"/>
<ellipse cx="270.2" cy="90.1" rx="3.8" ry="3.8" fill="rgb(8,38,52)" opacity="0.95"/>
<ellipse cx="329.1" cy="82.6" rx="5.2" ry="4.4" fill="rgb(8,38,52)" opacity="0.95"/>
<ellipse cx="186.2" cy="113.7" rx="5.2" ry="5.7" fill="rgb(8,38,52)" opacity="0.95"/>
<ellipse cx="210.6" cy="117.6" rx="4.8" ry="4.6" fill="rgb(8,38,52)" opacity="0.95"/>
<ellipse cx="222.6" cy="130.0" rx="4.4" ry="4.5" fill="rgb(8,38,52)" opacity="0.95"/>
<ellipse cx="208.3" cy="127.6" rx="3.3" ry="3.4" fill="rgb(8,38,52)" opacity="0.95"/>
<ellipse cx="215.9" cy="135.2" rx="3.8" ry="4.3" fill="rgb(8,38,52)" opacity="0.95"/>
<ellipse cx="198.7" cy="146.5" rx="7.0" ry="7.2" fill="rgb(8,38,52)" opacity="0.95"/>
<ellipse cx="235.8" cy="114.1" rx="5.2" ry="5.3" fill="rgb(8,38,52)" opacity="0.95"/>
<ellipse cx="252.0" cy="124.4" rx="5.8" ry="5.1" fill="rgb(8,38,52)" opacity="0.95"/>
<ellipse cx="245.6" cy="139.0" rx="4.2" ry="3.7" fill="rgb(8,38,52)" opacity="0.95"/>
<ellipse cx="275.4" cy="121.8" rx="4.8" ry="5.1" fill="rgb(8,38,52)" opacity="0.95"/>
<ellipse cx="297.5" cy="130.2" rx="6.7" ry="6.8" fill="rgb(8,38,52)" opacity="0.95"/>
<ellipse cx="311.7" cy="123.3" rx="5.3" ry="4.7" fill="rgb(8,38,52)" opacity="0.95"/>
<ellipse cx="323.0" cy="115.8" rx="3.8" ry="4.2" fill="rgb(8,38,52)" opacity="0.95"/>
<ellipse cx="326.3" cy="132.0" rx="5.6" ry="5.4" fill="rgb(8,38,52)" opacity="0.95"/>
<ellipse cx="270.6" cy="148.0" rx="5.3" ry="5.4" fill="rgb(8,38,52)" opacity="0.95"/>
<ellipse cx="258.8" cy="154.3" rx="3.7" ry="3.9" fill="rgb(8,38,52)" opacity="0.95"/>
<ellipse cx="293.5" cy="143.0" rx="5.1" ry="4.5" fill="rgb(8,38,52)" opacity="0.95"/>
<ellipse cx="306.2" cy="148.6" rx="6.0" ry="5.7" fill="rgb(8,38,52)" opacity="0.95"/>
<ellipse cx="243.3" cy="162.0" rx="3.4" ry="3.6" fill="rgb(8,38,52)" opacity="0.95"/>
<ellipse cx="282.9" cy="163.8" rx="5.2" ry="4.4" fill="rgb(8,38,52)" opacity="0.95"/>
<ellipse cx="275.0" cy="171.3" rx="4.3" ry="4.2" fill="rgb(8,38,52)" opacity="0.95"/>
<ellipse cx="220.1" cy="165.4" rx="5.6" ry="5.1" fill="rgb(8,38,52)" opacity="0.95"/>
<ellipse cx="324.2" cy="168.9" rx="4.9" ry="4.5" fill="rgb(8,38,52)" opacity="0.95"/>
<ellipse cx="208.1" cy="171.6" rx="4.3" ry="3.9" fill="rgb(8,38,52)" opacity="0.95"/>
<ellipse cx="304.0" cy="104.2" rx="4.3" ry="5.0" fill="rgb(8,38,52)" opacity="0.95"/>
<ellipse cx="284.1" cy="103.9" rx="5.1" ry="4.5" fill="rgb(8,38,52)" opacity="0.95"/>
</g>
<polygon points="240.9,65.9 250.0,63.9 252.0,80.0 249.0,104.1 244.1,106.1 240.9,90.0" fill="#1c1406" opacity="0.9" filter="url(#blur3)"/>
<polygon points="247.0,94.0 262.1,92.0 266.0,104.1 262.1,115.9 250.0,115.9" fill="#1c1406" opacity="0.9" filter="url(#blur3)"/>
<polygon points="221.9,127.0 237.9,124.0 243.1,140.0 239.9,160.0 228.1,162.0 220.0,145.0" fill="#1c1406" opacity="0.9" filter="url(#blur3)"/>
<polygon points="251.0,137.1 264.0,137.1 265.0,156.1 252.0,156.1" fill="#1c1406" opacity="0.9" filter="url(#blur3)"/>
<polygon points="184.0,115.9 198.0,117.9 200.0,136.1 184.0,138.1" fill="#1c1406" opacity="0.9" filter="url(#blur3)"/>
<polygon points="304.9,74.0 333.0,72.1 333.0,104.1 312.1,106.1 302.0,90.0" fill="#1c1406" opacity="0.9" filter="url(#blur3)"/>
<polygon points="288.9,27.0 300.0,27.0 300.0,42.0 288.9,42.0" fill="#1c1406" opacity="0.9" filter="url(#blur3)"/>
<polygon points="264.0,104.1 289.9,104.1 289.9,110.0 264.0,110.0" fill="#1c1406" opacity="0.9" filter="url(#blur3)"/>
<polygon points="199.0,42.0 216.0,41.0 219.0,52.1 213.1,57.0 201.0,55.1" fill="#1c1406" opacity="0.9" filter="url(#blur3)"/>
<polygon points="221.9,160.0 239.9,158.0 246.1,176.0 221.9,176.0" fill="#1c1406" opacity="0.9" filter="url(#blur3)"/>
<polygon points="184.0,143.0 194.1,143.0 201.0,160.0 199.0,176.0 184.0,176.0" fill="#1c1406" opacity="0.9" filter="url(#blur3)"/>
<polygon points="287.9,139.1 303.0,137.1 312.1,149.9 300.0,155.1 287.9,152.1" fill="#1c1406" opacity="0.9" filter="url(#blur3)"/>
<polygon points="213.1,78.0 222.9,81.9 220.9,90.0 211.1,88.1" fill="#1c1406" opacity="0.9" filter="url(#blur3)"/>
</g>
</g>
<g clip-path="url(#clipC)">
<g filter="url(#granC)">
<rect x="335" y="27" width="149" height="149" fill="#2a1c06"/>
<g filter="url(#blur1)">
<ellipse cx="344.0" cy="40.0" rx="11.4" ry="10.0" transform="rotate(161 344.0 40.0)" fill="url(#gCc2)"/>
<ellipse cx="366.0" cy="45.0" rx="11.5" ry="12.5" transform="rotate(150 366.0 45.0)" fill="url(#gCg3)"/>
<ellipse cx="383.0" cy="40.0" rx="12.9" ry="14.2" transform="rotate(14 383.0 40.0)" fill="url(#gCg2)"/>
<ellipse cx="402.0" cy="44.0" rx="10.8" ry="11.3" transform="rotate(178 402.0 44.0)" fill="url(#gCg3)"/>
<ellipse cx="426.0" cy="41.0" rx="15.6" ry="14.6" transform="rotate(55 426.0 41.0)" fill="url(#gCg3)"/>
<ellipse cx="451.0" cy="34.0" rx="12.8" ry="13.0" transform="rotate(69 451.0 34.0)" fill="url(#gCg2)"/>
<ellipse cx="469.0" cy="40.0" rx="12.6" ry="13.2" transform="rotate(3 469.0 40.0)" fill="url(#gCy2)"/>
<ellipse cx="348.0" cy="51.0" rx="9.7" ry="10.4" transform="rotate(26 348.0 51.0)" fill="url(#gCg2)"/>
<ellipse cx="357.0" cy="53.0" rx="10.2" ry="10.7" transform="rotate(31 357.0 53.0)" fill="url(#gCg2)"/>
<ellipse cx="373.0" cy="58.0" rx="10.6" ry="9.9" transform="rotate(102 373.0 58.0)" fill="url(#gCg2)"/>
<ellipse cx="357.0" cy="69.0" rx="10.1" ry="10.9" transform="rotate(7 357.0 69.0)" fill="url(#gCg2)"/>
<ellipse cx="339.0" cy="74.0" rx="12.8" ry="11.2" transform="rotate(173 339.0 74.0)" fill="url(#gCc2)"/>
<ellipse cx="367.0" cy="72.0" rx="12.6" ry="12.2" transform="rotate(74 367.0 72.0)" fill="url(#gCg3)"/>
<ellipse cx="381.0" cy="70.0" rx="10.9" ry="11.0" transform="rotate(136 381.0 70.0)" fill="url(#gCg2)"/>
<ellipse cx="395.0" cy="67.0" rx="13.1" ry="12.2" transform="rotate(179 395.0 67.0)" fill="url(#gCg2)"/>
<ellipse cx="406.0" cy="59.0" rx="13.4" ry="13.4" transform="rotate(74 406.0 59.0)" fill="url(#gCg3)"/>
<ellipse cx="429.0" cy="58.0" rx="10.4" ry="10.7" transform="rotate(163 429.0 58.0)" fill="url(#gCg2)"/>
<ellipse cx="442.0" cy="58.0" rx="15.9" ry="15.9" transform="rotate(78 442.0 58.0)" fill="url(#gCc3)"/>
<ellipse cx="437.0" cy="67.0" rx="15.5" ry="13.4" transform="rotate(10 437.0 67.0)" fill="url(#gCc1)"/>
<ellipse cx="469.0" cy="58.0" rx="13.0" ry="13.5" transform="rotate(132 469.0 58.0)" fill="url(#gCg3)"/>
<ellipse cx="480.0" cy="65.0" rx="10.8" ry="11.2" transform="rotate(55 480.0 65.0)" fill="url(#gCg2)"/>
<ellipse cx="460.0" cy="54.0" rx="10.8" ry="9.4" transform="rotate(22 460.0 54.0)" fill="url(#gCc2)"/>
<ellipse cx="419.0" cy="78.0" rx="12.1" ry="12.3" transform="rotate(71 419.0 78.0)" fill="url(#gCg3)"/>
<ellipse cx="429.0" cy="78.0" rx="12.4" ry="14.7" transform="rotate(95 429.0 78.0)" fill="url(#gCg1)"/>
<ellipse cx="449.0" cy="85.0" rx="14.7" ry="15.0" transform="rotate(71 449.0 85.0)" fill="url(#gCc3)"/>
<ellipse cx="469.0" cy="78.0" rx="11.5" ry="10.9" transform="rotate(164 469.0 78.0)" fill="url(#gCg3)"/>
<ellipse cx="391.0" cy="82.0" rx="13.8" ry="12.8" transform="rotate(156 391.0 82.0)" fill="url(#gCg2)"/>
<ellipse cx="404.0" cy="83.0" rx="12.0" ry="13.2" transform="rotate(40 404.0 83.0)" fill="url(#gCg2)"/>
<ellipse cx="371.0" cy="83.0" rx="11.2" ry="10.7" transform="rotate(163 371.0 83.0)" fill="url(#gCg2)"/>
<ellipse cx="360.0" cy="92.0" rx="11.0" ry="13.2" transform="rotate(22 360.0 92.0)" fill="url(#gCg2)"/>
<ellipse cx="402.0" cy="94.0" rx="10.6" ry="11.7" transform="rotate(0 402.0 94.0)" fill="url(#gCc2)"/>
<ellipse cx="429.0" cy="94.0" rx="11.5" ry="11.7" transform="rotate(58 429.0 94.0)" fill="url(#gCg2)"/>
<ellipse cx="473.0" cy="94.0" rx="10.9" ry="13.5" transform="rotate(147 473.0 94.0)" fill="url(#gCg2)"/>
<ellipse cx="339.0" cy="108.0" rx="10.3" ry="10.1" transform="rotate(105 339.0 108.0)" fill="url(#gCg2)"/>
<ellipse cx="353.0" cy="112.0" rx="12.4" ry="12.4" transform="rotate(162 353.0 112.0)" fill="url(#gCy3)"/>
<ellipse cx="339.0" cy="128.0" rx="10.0" ry="10.5" transform="rotate(168 339.0 128.0)" fill="url(#gCc2)"/>
<ellipse cx="337.0" cy="143.0" rx="13.8" ry="12.2" transform="rotate(37 337.0 143.0)" fill="url(#gCg3)"/>
<ellipse cx="375.0" cy="125.0" rx="11.6" ry="13.6" transform="rotate(161 375.0 125.0)" fill="url(#gCg1)"/>
<ellipse cx="400.0" cy="121.0" rx="14.6" ry="17.2" transform="rotate(64 400.0 121.0)" fill="url(#gCg3)"/>
<ellipse cx="413.0" cy="119.0" rx="12.2" ry="11.3" transform="rotate(158 413.0 119.0)" fill="url(#gCg2)"/>
<ellipse cx="429.0" cy="119.0" rx="13.8" ry="11.3" transform="rotate(114 429.0 119.0)" fill="url(#gCg2)"/>
<ellipse cx="440.0" cy="125.0" rx="9.7" ry="11.6" transform="rotate(9 440.0 125.0)" fill="url(#gCc2)"/>
<ellipse cx="415.0" cy="103.0" rx="9.5" ry="11.1" transform="rotate(56 415.0 103.0)" fill="url(#gCg2)"/>
<ellipse cx="442.0" cy="104.0" rx="11.6" ry="11.5" transform="rotate(128 442.0 104.0)" fill="url(#gCg2)"/>
<ellipse cx="455.0" cy="105.0" rx="9.5" ry="11.1" transform="rotate(169 455.0 105.0)" fill="url(#gCg2)"/>
<ellipse cx="469.0" cy="114.0" rx="13.8" ry="12.5" transform="rotate(40 469.0 114.0)" fill="url(#gCg2)"/>
<ellipse cx="466.0" cy="130.0" rx="13.3" ry="14.8" transform="rotate(35 466.0 130.0)" fill="url(#gCg2)"/>
<ellipse cx="478.0" cy="139.0" rx="9.7" ry="9.8" transform="rotate(120 478.0 139.0)" fill="url(#gCg2)"/>
<ellipse cx="357.0" cy="143.0" rx="13.2" ry="11.9" transform="rotate(119 357.0 143.0)" fill="url(#gCg2)"/>
<ellipse cx="371.0" cy="148.0" rx="13.5" ry="12.6" transform="rotate(41 371.0 148.0)" fill="url(#gCc2)"/>
<ellipse cx="384.0" cy="141.0" rx="11.7" ry="13.6" transform="rotate(120 384.0 141.0)" fill="url(#gCc2)"/>
<ellipse cx="397.0" cy="143.0" rx="11.6" ry="12.7" transform="rotate(16 397.0 143.0)" fill="url(#gCg2)"/>
<ellipse cx="413.0" cy="139.0" rx="13.8" ry="12.1" transform="rotate(95 413.0 139.0)" fill="url(#gCg2)"/>
<ellipse cx="422.0" cy="137.0" rx="12.4" ry="10.9" transform="rotate(108 422.0 137.0)" fill="url(#gCg3)"/>
<ellipse cx="431.0" cy="146.0" rx="11.6" ry="11.5" transform="rotate(145 431.0 146.0)" fill="url(#gCg2)"/>
<ellipse cx="449.0" cy="143.0" rx="11.0" ry="11.6" transform="rotate(136 449.0 143.0)" fill="url(#gCg3)"/>
<ellipse cx="420.0" cy="150.0" rx="11.5" ry="11.6" transform="rotate(99 420.0 150.0)" fill="url(#gCg3)"/>
<ellipse cx="362.0" cy="154.0" rx="12.9" ry="15.5" transform="rotate(178 362.0 154.0)" fill="url(#gCg2)"/>
<ellipse cx="371.0" cy="161.0" rx="13.9" ry="15.6" transform="rotate(135 371.0 161.0)" fill="url(#gCc2)"/>
<ellipse cx="388.0" cy="157.0" rx="11.9" ry="13.6" transform="rotate(90 388.0 157.0)" fill="url(#gCg2)"/>
<ellipse cx="402.0" cy="154.0" rx="11.3" ry="12.5" transform="rotate(116 402.0 154.0)" fill="url(#gCg2)"/>
<ellipse cx="402.0" cy="166.0" rx="11.8" ry="12.8" transform="rotate(141 402.0 166.0)" fill="url(#gCg3)"/>
<ellipse cx="435.0" cy="157.0" rx="12.3" ry="12.3" transform="rotate(152 435.0 157.0)" fill="url(#gCg2)"/>
<ellipse cx="429.0" cy="163.0" rx="12.9" ry="12.3" transform="rotate(171 429.0 163.0)" fill="url(#gCg2)"/>
<ellipse cx="469.0" cy="157.0" rx="11.3" ry="13.2" transform="rotate(30 469.0 157.0)" fill="url(#gCg3)"/>
<ellipse cx="478.0" cy="166.0" rx="10.8" ry="9.8" transform="rotate(79 478.0 166.0)" fill="url(#gCg2)"/>
<ellipse cx="346.0" cy="170.0" rx="11.3" ry="11.3" transform="rotate(142 346.0 170.0)" fill="url(#gCg2)"/>
<ellipse cx="382.0" cy="172.0" rx="9.8" ry="10.5" transform="rotate(40 382.0 172.0)" fill="url(#gCg2)"/>
<ellipse cx="417.0" cy="172.0" rx="12.5" ry="12.3" transform="rotate(6 417.0 172.0)" fill="url(#gCg2)"/>
<ellipse cx="449.0" cy="168.0" rx="10.8" ry="11.1" transform="rotate(103 449.0 168.0)" fill="url(#gCc2)"/>
<ellipse cx="451.0" cy="154.0" rx="11.5" ry="9.7" transform="rotate(27 451.0 154.0)" fill="url(#gCg2)"/>
<ellipse cx="346.1" cy="40.2" rx="4.4" ry="4.4" fill="rgb(8,38,52)" opacity="0.95"/>
<ellipse cx="365.8" cy="47.4" rx="5.1" ry="6.3" fill="rgb(8,38,52)" opacity="0.95"/>
<ellipse cx="380.5" cy="38.8" rx="6.5" ry="5.6" fill="rgb(8,38,52)" opacity="0.95"/>
<ellipse cx="403.5" cy="45.9" rx="4.3" ry="4.6" fill="rgb(8,38,52)" opacity="0.95"/>
<ellipse cx="424.0" cy="39.1" rx="5.7" ry="6.1" fill="rgb(8,38,52)" opacity="0.95"/>
<ellipse cx="453.1" cy="35.3" rx="5.3" ry="5.4" fill="rgb(8,38,52)" opacity="0.95"/>
<ellipse cx="470.3" cy="42.1" rx="6.0" ry="5.9" fill="rgb(8,38,52)" opacity="0.95"/>
<ellipse cx="349.9" cy="51.8" rx="4.2" ry="4.0" fill="rgb(8,38,52)" opacity="0.95"/>
<ellipse cx="359.1" cy="52.6" rx="3.7" ry="4.0" fill="rgb(8,38,52)" opacity="0.95"/>
<ellipse cx="375.1" cy="57.8" rx="3.9" ry="4.1" fill="rgb(8,38,52)" opacity="0.95"/>
<ellipse cx="359.0" cy="69.5" rx="4.4" ry="3.7" fill="rgb(8,38,52)" opacity="0.95"/>
<ellipse cx="337.1" cy="75.5" rx="4.8" ry="4.3" fill="rgb(8,38,52)" opacity="0.95"/>
<ellipse cx="369.4" cy="72.5" rx="6.5" ry="6.4" fill="rgb(8,38,52)" opacity="0.95"/>
<ellipse cx="381.3" cy="72.1" rx="4.1" ry="3.8" fill="rgb(8,38,52)" opacity="0.95"/>
<ellipse cx="392.6" cy="67.6" rx="5.8" ry="5.7" fill="rgb(8,38,52)" opacity="0.95"/>
<ellipse cx="408.4" cy="58.7" rx="4.8" ry="5.3" fill="rgb(8,38,52)" opacity="0.95"/>
<ellipse cx="427.8" cy="56.3" rx="3.6" ry="4.0" fill="rgb(8,38,52)" opacity="0.95"/>
<ellipse cx="444.1" cy="55.6" rx="7.5" ry="6.8" fill="rgb(8,38,52)" opacity="0.95"/>
<ellipse cx="434.8" cy="68.7" rx="6.5" ry="7.1" fill="rgb(8,38,52)" opacity="0.95"/>
<ellipse cx="469.5" cy="60.4" rx="4.5" ry="5.0" fill="rgb(8,38,52)" opacity="0.95"/>
<ellipse cx="481.1" cy="66.8" rx="3.7" ry="4.0" fill="rgb(8,38,52)" opacity="0.95"/>
<ellipse cx="459.2" cy="56.0" rx="4.9" ry="4.6" fill="rgb(8,38,52)" opacity="0.95"/>
<ellipse cx="420.6" cy="76.1" rx="4.5" ry="4.2" fill="rgb(8,38,52)" opacity="0.95"/>
<ellipse cx="428.0" cy="75.4" rx="5.4" ry="5.0" fill="rgb(8,38,52)" opacity="0.95"/>
<ellipse cx="450.3" cy="87.9" rx="6.0" ry="6.8" fill="rgb(8,38,52)" opacity="0.95"/>
<ellipse cx="468.5" cy="75.6" rx="4.6" ry="4.4" fill="rgb(8,38,52)" opacity="0.95"/>
<ellipse cx="393.3" cy="81.0" rx="5.3" ry="5.2" fill="rgb(8,38,52)" opacity="0.95"/>
<ellipse cx="406.0" cy="81.6" rx="4.2" ry="4.2" fill="rgb(8,38,52)" opacity="0.95"/>
<ellipse cx="372.8" cy="84.0" rx="4.8" ry="5.4" fill="rgb(8,38,52)" opacity="0.95"/>
<ellipse cx="357.6" cy="91.7" rx="4.3" ry="4.1" fill="rgb(8,38,52)" opacity="0.95"/>
<ellipse cx="404.0" cy="94.5" rx="4.0" ry="3.5" fill="rgb(8,38,52)" opacity="0.95"/>
<ellipse cx="428.1" cy="96.3" rx="5.1" ry="4.6" fill="rgb(8,38,52)" opacity="0.95"/>
<ellipse cx="472.3" cy="91.6" rx="5.0" ry="5.0" fill="rgb(8,38,52)" opacity="0.95"/>
<ellipse cx="340.3" cy="109.7" rx="3.8" ry="4.2" fill="rgb(8,38,52)" opacity="0.95"/>
<ellipse cx="350.7" cy="113.6" rx="6.2" ry="5.3" fill="rgb(8,38,52)" opacity="0.95"/>
<ellipse cx="338.5" cy="130.0" rx="3.9" ry="3.7" fill="rgb(8,38,52)" opacity="0.95"/>
<ellipse cx="339.4" cy="143.4" rx="5.5" ry="5.8" fill="rgb(8,38,52)" opacity="0.95"/>
<ellipse cx="377.4" cy="124.6" rx="5.0" ry="5.3" fill="rgb(8,38,52)" opacity="0.95"/>
<ellipse cx="400.7" cy="124.1" rx="7.4" ry="7.9" fill="rgb(8,38,52)" opacity="0.95"/>
<ellipse cx="414.7" cy="117.2" rx="4.9" ry="4.3" fill="rgb(8,38,52)" opacity="0.95"/>
<ellipse cx="426.8" cy="120.1" rx="4.5" ry="4.9" fill="rgb(8,38,52)" opacity="0.95"/>
<ellipse cx="439.0" cy="126.9" rx="4.2" ry="4.1" fill="rgb(8,38,52)" opacity="0.95"/>
<ellipse cx="413.3" cy="104.2" rx="4.1" ry="4.6" fill="rgb(8,38,52)" opacity="0.95"/>
<ellipse cx="442.1" cy="106.1" rx="3.7" ry="3.8" fill="rgb(8,38,52)" opacity="0.95"/>
<ellipse cx="456.2" cy="106.7" rx="4.8" ry="4.6" fill="rgb(8,38,52)" opacity="0.95"/>
<ellipse cx="468.1" cy="111.3" rx="4.8" ry="4.8" fill="rgb(8,38,52)" opacity="0.95"/>
<ellipse cx="468.6" cy="131.1" rx="5.1" ry="5.7" fill="rgb(8,38,52)" opacity="0.95"/>
<ellipse cx="476.2" cy="137.9" rx="4.2" ry="4.1" fill="rgb(8,38,52)" opacity="0.95"/>
<ellipse cx="359.4" cy="143.4" rx="5.4" ry="5.0" fill="rgb(8,38,52)" opacity="0.95"/>
<ellipse cx="370.8" cy="150.4" rx="5.1" ry="5.5" fill="rgb(8,38,52)" opacity="0.95"/>
<ellipse cx="382.2" cy="139.4" rx="5.8" ry="6.1" fill="rgb(8,38,52)" opacity="0.95"/>
<ellipse cx="399.3" cy="142.1" rx="5.9" ry="5.9" fill="rgb(8,38,52)" opacity="0.95"/>
<ellipse cx="410.9" cy="140.3" rx="4.8" ry="5.5" fill="rgb(8,38,52)" opacity="0.95"/>
<ellipse cx="423.8" cy="135.3" rx="5.5" ry="4.4" fill="rgb(8,38,52)" opacity="0.95"/>
<ellipse cx="432.6" cy="147.8" rx="5.0" ry="5.0" fill="rgb(8,38,52)" opacity="0.95"/>
<ellipse cx="451.4" cy="142.6" rx="4.2" ry="4.3" fill="rgb(8,38,52)" opacity="0.95"/>
<ellipse cx="419.0" cy="147.8" rx="4.2" ry="4.8" fill="rgb(8,38,52)" opacity="0.95"/>
<ellipse cx="359.8" cy="155.7" rx="5.4" ry="5.6" fill="rgb(8,38,52)" opacity="0.95"/>
<ellipse cx="368.0" cy="160.1" rx="7.1" ry="7.5" fill="rgb(8,38,52)" opacity="0.95"/>
<ellipse cx="390.4" cy="156.5" rx="4.7" ry="5.4" fill="rgb(8,38,52)" opacity="0.95"/>
<ellipse cx="401.1" cy="156.3" rx="5.9" ry="5.8" fill="rgb(8,38,52)" opacity="0.95"/>
<ellipse cx="404.4" cy="165.4" rx="5.3" ry="6.0" fill="rgb(8,38,52)" opacity="0.95"/>
<ellipse cx="432.6" cy="157.1" rx="5.1" ry="5.0" fill="rgb(8,38,52)" opacity="0.95"/>
<ellipse cx="429.0" cy="160.6" rx="4.9" ry="4.9" fill="rgb(8,38,52)" opacity="0.95"/>
<ellipse cx="467.9" cy="159.2" rx="4.6" ry="4.2" fill="rgb(8,38,52)" opacity="0.95"/>
<ellipse cx="479.9" cy="166.8" rx="3.4" ry="4.0" fill="rgb(8,38,52)" opacity="0.95"/>
<ellipse cx="347.6" cy="171.4" rx="4.7" ry="4.4" fill="rgb(8,38,52)" opacity="0.95"/>
<ellipse cx="383.1" cy="173.8" rx="5.5" ry="4.5" fill="rgb(8,38,52)" opacity="0.95"/>
<ellipse cx="416.9" cy="174.4" rx="5.6" ry="5.1" fill="rgb(8,38,52)" opacity="0.95"/>
<ellipse cx="448.5" cy="165.9" rx="4.3" ry="3.9" fill="rgb(8,38,52)" opacity="0.95"/>
<ellipse cx="449.9" cy="155.8" rx="5.3" ry="5.2" fill="rgb(8,38,52)" opacity="0.95"/>
</g>
<polygon points="359.6,86.1 384.3,83.2 408.9,96.0 408.9,108.3 396.6,113.2 391.6,130.4 381.8,135.4 359.6,135.4 344.9,130.4 344.9,121.8 362.1,110.7 357.2,100.9" fill="#2a1c06" opacity="0.9" filter="url(#blur3)"/>
<polygon points="347.3,27.0 379.3,27.0 376.9,38.1 357.2,40.5" fill="#2a1c06" opacity="0.9" filter="url(#blur3)"/>
<polygon points="463.1,27.0 484.0,27.0 484.0,44.2 472.9,46.7 465.5,36.9" fill="#2a1c06" opacity="0.9" filter="url(#blur3)"/>
<polygon points="335.0,41.8 342.4,44.2 342.4,59.0 335.0,61.5" fill="#2a1c06" opacity="0.9" filter="url(#blur3)"/>
<polygon points="335.0,130.4 343.6,132.9 344.9,155.1 335.0,155.1" fill="#2a1c06" opacity="0.9" filter="url(#blur3)"/>
<polygon points="443.4,27.0 458.1,27.0 455.7,36.9 445.8,36.9" fill="#2a1c06" opacity="0.9" filter="url(#blur3)"/>
<g filter="url(#blur1)">
<ellipse cx="375.0" cy="125.0" rx="9.5" ry="9.2" transform="rotate(127 375.0 125.0)" fill="url(#gCc2)"/>
<ellipse cx="373.5" cy="123.5" rx="5.3" ry="4.5" fill="rgb(8,38,52)" opacity="0.95"/>
</g>
</g>
</g>
<rect x="182" y="27" width="2" height="149" fill="#e8e8e8"/>
<rect x="333" y="27" width="2" height="149" fill="#e8e8e8"/>
<rect x="120" y="167.8" width="56" height="1.8" fill="#f0f0f0"/>
<defs><linearGradient id="cb" x1="0" x2="1" y1="0" y2="0">
<stop offset="0.000" stop-color="#1448e8"/>
<stop offset="0.060" stop-color="#1a5cf0"/>
<stop offset="0.126" stop-color="#1488f0"/>
<stop offset="0.193" stop-color="#08b4ea"/>
<stop offset="0.259" stop-color="#00ccdc"/>
<stop offset="0.348" stop-color="#06dcc4"/>
<stop offset="0.436" stop-color="#10e0a0"/>
<stop offset="0.507" stop-color="#30e060"/>
<stop offset="0.591" stop-color="#88e018"/>
<stop offset="0.658" stop-color="#b4e000"/>
<stop offset="0.729" stop-color="#d4d800"/>
<stop offset="0.813" stop-color="#e8c400"/>
<stop offset="0.901" stop-color="#f4a400"/>
<stop offset="0.968" stop-color="#fa8200"/>
<stop offset="1.000" stop-color="#ff6400"/>
</linearGradient></defs>
<rect x="33" y="178" width="451.5" height="16.6" fill="url(#cb)"/>
<text x="36.6" y="191.6" font-size="14.6" text-anchor="start" font-weight="normal" fill="#fff" >400</text>
<text x="477.4" y="191.6" font-size="14.6" text-anchor="end" font-weight="normal" fill="#fff" >1600</text>
<text x="202.6" y="191.4" font-size="13.3" text-anchor="start" font-weight="bold" fill="#111" >NAD(P)H τ<tspan font-size="9" dy="2.5">m</tspan><tspan dy="-2.5"> (ps)</tspan></text>
<text x="18.8" y="10.8" font-size="18.2" text-anchor="start" font-weight="normal" fill="#000" >a</text>
<text x="110.9" y="20.6" font-size="17.4" text-anchor="middle" font-weight="normal" fill="#1a1a1a" letter-spacing="1.2">Control</text>
<text x="259.0" y="20.8" font-size="17.4" text-anchor="middle" font-weight="normal" fill="#1a1a1a" letter-spacing="1.5">NaCN</text>
<text x="409.9" y="20.8" font-size="17.4" text-anchor="middle" font-weight="normal" fill="#1a1a1a" letter-spacing="1.35">2DG</text>
<path d="M52.3,336.3 L53.3,335.7 L54.3,335.1 L55.3,334.6 L56.3,334.0 L57.3,333.4 L58.3,332.8 L59.3,332.2 L60.3,331.6 L61.3,331.0 L62.3,330.4 L63.3,329.9 L64.3,329.3 L65.3,328.7 L66.3,328.1 L67.3,327.5 L68.3,326.9 L69.3,326.3 L70.3,325.7 L71.3,325.1 L72.3,324.5 L73.3,323.9 L74.3,323.4 L75.3,322.8 L76.3,322.2 L77.3,321.6 L78.3,321.0 L79.3,320.4 L80.3,319.8 L81.3,319.2 L82.3,318.6 L83.3,318.0 L84.3,317.4 L85.3,316.8 L86.3,316.2 L87.3,315.6 L88.3,315.0 L89.3,314.4 L90.3,313.8 L91.3,313.2 L92.3,312.6 L93.3,312.0 L94.3,311.4 L95.3,310.7 L96.3,310.1 L97.3,309.5 L98.3,308.9 L99.3,308.3 L100.3,307.7 L101.3,307.1 L102.3,306.5 L103.3,305.8 L104.3,305.2 L105.3,304.6 L106.3,304.0 L107.3,303.3 L108.3,302.7 L109.3,302.1 L110.3,301.4 L111.3,300.8 L112.3,300.2 L113.3,299.5 L114.3,298.9 L115.3,298.3 L116.3,297.6 L117.3,297.0 L118.3,296.3 L119.3,295.7 L120.3,295.0 L121.3,294.4 L122.3,293.7 L123.3,293.1 L124.3,292.4 L125.3,291.7 L126.3,291.1 L127.3,290.4 L128.3,289.8 L129.3,289.1 L130.3,288.4 L131.3,287.7 L132.3,287.1 L133.3,286.4 L134.3,285.7 L135.3,285.0 L136.3,284.4 L137.3,283.7 L138.3,283.0 L139.3,282.3 L140.3,281.6 L141.3,280.9 L142.3,280.2 L143.3,279.6 L144.3,278.9 L145.3,278.2 L146.3,277.5 L147.3,276.8 L148.3,276.1 L149.3,275.4 L150.3,274.7 L151.3,274.0 L152.3,273.3 L153.3,272.6 L154.3,271.9 L155.3,271.2 L156.3,270.5 L157.3,269.8 L158.3,269.1 L159.3,268.4 L160.3,267.7 L161.3,267.0 L162.3,266.2 L163.3,265.5 L164.3,264.8 L165.3,264.1 L166.3,263.4 L167.3,262.7 L168.3,262.0 L169.3,261.3 L170.3,260.6 L171.3,259.9 L172.3,259.1 L173.3,258.4 L174.3,257.7 L175.3,257.0 L176.3,256.3 L177.3,255.6 L178.3,254.9 L179.3,254.2 L180.3,253.4 L181.3,252.7 L182.3,252.0 L183.3,251.3 L184.3,250.6 L185.3,249.9 L186.3,249.1 L187.3,248.4 L188.3,247.7 L189.3,247.0 L190.3,246.3 L191.3,245.6 L192.3,244.8 L193.3,244.1 L194.3,243.4 L195.3,242.7 L196.3,242.0 L197.3,241.3 L198.3,240.5 L199.3,239.8 L200.3,239.1 L201.3,238.4 L202.3,237.7 L203.3,236.9 L204.3,236.2 L205.3,235.5 L206.3,234.8" fill="none" stroke="#8a8a8a" stroke-width="0.9" stroke-dasharray="0.9 2.1"/>
<path d="M63.3,340.0 L64.3,339.3 L65.3,338.6 L66.3,337.9 L67.3,337.2 L68.3,336.5 L69.3,335.8 L70.3,335.0 L71.3,334.3 L72.3,333.6 L73.3,332.9 L74.3,332.2 L75.3,331.5 L76.3,330.8 L77.3,330.1 L78.3,329.4 L79.3,328.7 L80.3,328.0 L81.3,327.3 L82.3,326.6 L83.3,325.8 L84.3,325.1 L85.3,324.4 L86.3,323.7 L87.3,323.0 L88.3,322.3 L89.3,321.6 L90.3,320.9 L91.3,320.2 L92.3,319.5 L93.3,318.9 L94.3,318.2 L95.3,317.5 L96.3,316.8 L97.3,316.1 L98.3,315.4 L99.3,314.7 L100.3,314.0 L101.3,313.3 L102.3,312.6 L103.3,312.0 L104.3,311.3 L105.3,310.6 L106.3,309.9 L107.3,309.3 L108.3,308.6 L109.3,307.9 L110.3,307.2 L111.3,306.6 L112.3,305.9 L113.3,305.2 L114.3,304.6 L115.3,303.9 L116.3,303.2 L117.3,302.6 L118.3,301.9 L119.3,301.3 L120.3,300.6 L121.3,300.0 L122.3,299.3 L123.3,298.7 L124.3,298.0 L125.3,297.4 L126.3,296.8 L127.3,296.1 L128.3,295.5 L129.3,294.9 L130.3,294.2 L131.3,293.6 L132.3,293.0 L133.3,292.3 L134.3,291.7 L135.3,291.1 L136.3,290.5 L137.3,289.8 L138.3,289.2 L139.3,288.6 L140.3,288.0 L141.3,287.4 L142.3,286.8 L143.3,286.2 L144.3,285.5 L145.3,284.9 L146.3,284.3 L147.3,283.7 L148.3,283.1 L149.3,282.5 L150.3,281.9 L151.3,281.3 L152.3,280.7 L153.3,280.1 L154.3,279.5 L155.3,278.9 L156.3,278.3 L157.3,277.7 L158.3,277.1 L159.3,276.5 L160.3,275.9 L161.3,275.3 L162.3,274.7 L163.3,274.1 L164.3,273.5 L165.3,272.9 L166.3,272.3 L167.3,271.7 L168.3,271.2 L169.3,270.6 L170.3,270.0 L171.3,269.4 L172.3,268.8 L173.3,268.2 L174.3,267.6 L175.3,267.0 L176.3,266.4 L177.3,265.8 L178.3,265.3 L179.3,264.7 L180.3,264.1 L181.3,263.5 L182.3,262.9 L183.3,262.3 L184.3,261.7 L185.3,261.1 L186.3,260.6 L187.3,260.0 L188.3,259.4 L189.3,258.8 L190.3,258.2 L191.3,257.6 L192.3,257.0 L193.3,256.5 L194.3,255.9 L195.3,255.3 L196.3,254.7 L197.3,254.1 L198.3,253.5 L199.3,253.0 L200.3,252.4 L201.3,251.8 L202.3,251.2 L203.3,250.6 L204.3,250.0 L205.3,249.5 L206.3,248.9 L207.3,248.3 L208.3,247.7" fill="none" stroke="#8a8a8a" stroke-width="0.9" stroke-dasharray="0.9 2.1"/>
<line x1="54.0" y1="341.0" x2="208.8" y2="240.2" stroke="#6a6a6a" stroke-width="1" />
<line x1="52.3" y1="236.2" x2="52.3" y2="341.9" stroke="#111" stroke-width="1.7" />
<line x1="51.4" y1="341.0" x2="208.8" y2="341.0" stroke="#111" stroke-width="1.7" />
<g stroke="#eba060" stroke-width="1" opacity="0.9"><line x1="66.1" y1="324.8" x2="80.7" y2="324.8"/><line x1="66.1" y1="322.8" x2="66.1" y2="326.8"/><line x1="80.7" y1="322.8" x2="80.7" y2="326.8"/><line x1="73.4" y1="321.6" x2="73.4" y2="328.0"/><line x1="71.4" y1="321.6" x2="75.4" y2="321.6"/><line x1="71.4" y1="328.0" x2="75.4" y2="328.0"/></g>
<circle cx="73.4" cy="324.8" r="2.6" fill="#d2741e"/>
<g stroke="#eba060" stroke-width="1" opacity="0.9"><line x1="63.7" y1="332.0" x2="75.3" y2="332.0"/><line x1="63.7" y1="330.0" x2="63.7" y2="334.0"/><line x1="75.3" y1="330.0" x2="75.3" y2="334.0"/><line x1="69.5" y1="329.0" x2="69.5" y2="335.0"/><line x1="67.5" y1="329.0" x2="71.5" y2="329.0"/><line x1="67.5" y1="335.0" x2="71.5" y2="335.0"/></g>
<circle cx="69.5" cy="332.0" r="2.6" fill="#d2741e"/>
<g stroke="#eba060" stroke-width="1" opacity="0.9"><line x1="71.3" y1="330.1" x2="83.3" y2="330.1"/><line x1="71.3" y1="328.1" x2="71.3" y2="332.1"/><line x1="83.3" y1="328.1" x2="83.3" y2="332.1"/><line x1="77.3" y1="327.1" x2="77.3" y2="333.1"/><line x1="75.3" y1="327.1" x2="79.3" y2="327.1"/><line x1="75.3" y1="333.1" x2="79.3" y2="333.1"/></g>
<circle cx="77.3" cy="330.1" r="2.6" fill="#d2741e"/>
<g stroke="#4040c8" stroke-width="1" opacity="0.9"><line x1="92.2" y1="308.3" x2="103.2" y2="308.3"/><line x1="92.2" y1="306.3" x2="92.2" y2="310.3"/><line x1="103.2" y1="306.3" x2="103.2" y2="310.3"/><line x1="97.7" y1="305.3" x2="97.7" y2="311.3"/><line x1="95.7" y1="305.3" x2="99.7" y2="305.3"/><line x1="95.7" y1="311.3" x2="99.7" y2="311.3"/></g>
<circle cx="97.7" cy="308.3" r="2.6" fill="#0a0a84"/>
<g stroke="#4040c8" stroke-width="1" opacity="0.9"><line x1="102.4" y1="306.7" x2="112.4" y2="306.7"/><line x1="102.4" y1="304.7" x2="102.4" y2="308.7"/><line x1="112.4" y1="304.7" x2="112.4" y2="308.7"/><line x1="107.4" y1="303.7" x2="107.4" y2="309.7"/><line x1="105.4" y1="303.7" x2="109.4" y2="303.7"/><line x1="105.4" y1="309.7" x2="109.4" y2="309.7"/></g>
<circle cx="107.4" cy="306.7" r="2.6" fill="#0a0a84"/>
<g stroke="#4040c8" stroke-width="1" opacity="0.9"><line x1="124.3" y1="286.0" x2="133.3" y2="286.0"/><line x1="124.3" y1="284.0" x2="124.3" y2="288.0"/><line x1="133.3" y1="284.0" x2="133.3" y2="288.0"/><line x1="128.8" y1="283.1" x2="128.8" y2="288.9"/><line x1="126.8" y1="283.1" x2="130.8" y2="283.1"/><line x1="126.8" y1="288.9" x2="130.8" y2="288.9"/></g>
<circle cx="128.8" cy="286.0" r="2.6" fill="#0a0a84"/>
<g stroke="#dede60" stroke-width="1" opacity="0.9"><line x1="138.4" y1="286.0" x2="148.2" y2="286.0"/><line x1="138.4" y1="284.0" x2="138.4" y2="288.0"/><line x1="148.2" y1="284.0" x2="148.2" y2="288.0"/><line x1="143.3" y1="283.0" x2="143.3" y2="289.0"/><line x1="141.3" y1="283.0" x2="145.3" y2="283.0"/><line x1="141.3" y1="289.0" x2="145.3" y2="289.0"/></g>
<circle cx="143.3" cy="286.0" r="2.6" fill="#c8c81e"/>
<g stroke="#dede60" stroke-width="1" opacity="0.9"><line x1="161.9" y1="268.5" x2="174.5" y2="268.5"/><line x1="161.9" y1="266.5" x2="161.9" y2="270.5"/><line x1="174.5" y1="266.5" x2="174.5" y2="270.5"/><line x1="168.2" y1="265.3" x2="168.2" y2="271.7"/><line x1="166.2" y1="265.3" x2="170.2" y2="265.3"/><line x1="166.2" y1="271.7" x2="170.2" y2="271.7"/></g>
<circle cx="168.2" cy="268.5" r="2.6" fill="#c8c81e"/>
<g stroke="#dede60" stroke-width="1" opacity="0.9"><line x1="169.9" y1="260.1" x2="180.9" y2="260.1"/><line x1="169.9" y1="258.1" x2="169.9" y2="262.1"/><line x1="180.9" y1="258.1" x2="180.9" y2="262.1"/><line x1="175.4" y1="256.9" x2="175.4" y2="263.3"/><line x1="173.4" y1="256.9" x2="177.4" y2="256.9"/><line x1="173.4" y1="263.3" x2="177.4" y2="263.3"/></g>
<circle cx="175.4" cy="260.1" r="2.6" fill="#c8c81e"/>
<text x="20.0" y="227.0" font-size="20" text-anchor="start" font-weight="normal" fill="#000" >b</text>
<text x="49.5" y="240.2" font-size="7.6" text-anchor="end" font-weight="bold" fill="#222" >1100</text>
<text x="49.5" y="274.7" font-size="7.6" text-anchor="end" font-weight="bold" fill="#222" >1000</text>
<text x="49.5" y="309.2" font-size="7.6" text-anchor="end" font-weight="bold" fill="#222" >900</text>
<text x="49.5" y="343.7" font-size="7.6" text-anchor="end" font-weight="bold" fill="#222" >800</text>
<text x="51.5" y="354.2" font-size="7.6" text-anchor="middle" font-weight="bold" fill="#222" >800</text>
<text x="103.9" y="354.2" font-size="7.6" text-anchor="middle" font-weight="bold" fill="#222" >900</text>
<text x="156.0" y="354.2" font-size="7.6" text-anchor="middle" font-weight="bold" fill="#222" >1000</text>
<text x="207.8" y="354.2" font-size="7.6" text-anchor="middle" font-weight="bold" fill="#222" >1100</text>
<text x="129.8" y="363.0" font-size="8.8" text-anchor="middle" font-weight="bold" fill="#111" >Manual NAD(P)H τ<tspan font-size="6" dy="1.8">m</tspan></text>
<text x="0.0" y="0.0" font-size="9" text-anchor="middle" font-weight="bold" fill="#111" style="white-space:pre" transform="translate(27.6,284.5) rotate(-90)">ATM  NAD(P)H τ<tspan font-size="6" dy="1.8">m</tspan></text>
<text x="64.6" y="246.8" font-size="8" text-anchor="start" font-weight="bold" fill="#222" >Y = 0.9858*X + 7.285</text>
<text x="64.6" y="256.9" font-size="8" text-anchor="start" font-weight="bold" fill="#222" >R<tspan font-size="5.4" dy="-3.2">2</tspan><tspan dy="3.2"> = 0.9843</tspan></text>
<text x="64.6" y="265.9" font-size="8" text-anchor="start" font-weight="bold" fill="#222" >P = &lt;0.0001</text>
<path d="M278.4,340.6 L279.4,340.0 L280.4,339.5 L281.4,338.9 L282.4,338.3 L283.4,337.8 L284.4,337.2 L285.4,336.6 L286.4,336.0 L287.4,335.5 L288.4,334.9 L289.4,334.3 L290.4,333.7 L291.4,333.2 L292.4,332.6 L293.4,332.0 L294.4,331.4 L295.4,330.9 L296.4,330.3 L297.4,329.7 L298.4,329.1 L299.4,328.5 L300.4,328.0 L301.4,327.4 L302.4,326.8 L303.4,326.2 L304.4,325.6 L305.4,325.0 L306.4,324.5 L307.4,323.9 L308.4,323.3 L309.4,322.7 L310.4,322.1 L311.4,321.5 L312.4,320.9 L313.4,320.3 L314.4,319.7 L315.4,319.1 L316.4,318.5 L317.4,317.9 L318.4,317.3 L319.4,316.7 L320.4,316.1 L321.4,315.5 L322.4,314.9 L323.4,314.3 L324.4,313.6 L325.4,313.0 L326.4,312.4 L327.4,311.8 L328.4,311.1 L329.4,310.5 L330.4,309.9 L331.4,309.2 L332.4,308.6 L333.4,308.0 L334.4,307.3 L335.4,306.7 L336.4,306.0 L337.4,305.4 L338.4,304.7 L339.4,304.1 L340.4,303.4 L341.4,302.8 L342.4,302.1 L343.4,301.5 L344.4,300.8 L345.4,300.1 L346.4,299.5 L347.4,298.8 L348.4,298.1 L349.4,297.5 L350.4,296.8 L351.4,296.1 L352.4,295.4 L353.4,294.8 L354.4,294.1 L355.4,293.4 L356.4,292.7 L357.4,292.0 L358.4,291.4 L359.4,290.7 L360.4,290.0 L361.4,289.3 L362.4,288.6 L363.4,287.9 L364.4,287.3 L365.4,286.6 L366.4,285.9 L367.4,285.2 L368.4,284.5 L369.4,283.8 L370.4,283.1 L371.4,282.4 L372.4,281.8 L373.4,281.1 L374.4,280.4 L375.4,279.7 L376.4,279.0 L377.4,278.3 L378.4,277.6 L379.4,276.9 L380.4,276.2 L381.4,275.5 L382.4,274.8 L383.4,274.1 L384.4,273.4 L385.4,272.7 L386.4,272.1 L387.4,271.4 L388.4,270.7 L389.4,270.0 L390.4,269.3 L391.4,268.6 L392.4,267.9 L393.4,267.2 L394.4,266.5 L395.4,265.8 L396.4,265.1 L397.4,264.4 L398.4,263.7 L399.4,263.0 L400.4,262.3 L401.4,261.6 L402.4,260.9 L403.4,260.2 L404.4,259.5 L405.4,258.8 L406.4,258.1 L407.4,257.4 L408.4,256.7 L409.4,256.0 L410.4,255.3 L411.4,254.6 L412.4,253.9 L413.4,253.2 L414.4,252.5 L415.4,251.8 L416.4,251.1 L417.4,250.4 L418.4,249.8 L419.4,249.1 L420.4,248.4 L421.4,247.7 L422.4,247.0 L423.4,246.3 L424.4,245.6 L425.4,244.9 L426.4,244.2 L427.4,243.5 L428.4,242.8 L429.4,242.1 L430.4,241.4 L431.4,240.7 L432.4,240.0" fill="none" stroke="#8a8a8a" stroke-width="0.9" stroke-dasharray="0.9 2.1"/>
<path d="M284.4,344.7 L285.4,344.0 L286.4,343.3 L287.4,342.7 L288.4,342.0 L289.4,341.3 L290.4,340.6 L291.4,339.9 L292.4,339.2 L293.4,338.5 L294.4,337.8 L295.4,337.1 L296.4,336.5 L297.4,335.8 L298.4,335.1 L299.4,334.4 L300.4,333.7 L301.4,333.0 L302.4,332.4 L303.4,331.7 L304.4,331.0 L305.4,330.3 L306.4,329.6 L307.4,329.0 L308.4,328.3 L309.4,327.6 L310.4,326.9 L311.4,326.3 L312.4,325.6 L313.4,324.9 L314.4,324.3 L315.4,323.6 L316.4,322.9 L317.4,322.3 L318.4,321.6 L319.4,321.0 L320.4,320.3 L321.4,319.7 L322.4,319.0 L323.4,318.4 L324.4,317.7 L325.4,317.1 L326.4,316.4 L327.4,315.8 L328.4,315.1 L329.4,314.5 L330.4,313.9 L331.4,313.2 L332.4,312.6 L333.4,312.0 L334.4,311.4 L335.4,310.8 L336.4,310.1 L337.4,309.5 L338.4,308.9 L339.4,308.3 L340.4,307.7 L341.4,307.1 L342.4,306.5 L343.4,305.9 L344.4,305.3 L345.4,304.7 L346.4,304.1 L347.4,303.5 L348.4,302.9 L349.4,302.3 L350.4,301.7 L351.4,301.1 L352.4,300.5 L353.4,299.9 L354.4,299.3 L355.4,298.8 L356.4,298.2 L357.4,297.6 L358.4,297.0 L359.4,296.4 L360.4,295.8 L361.4,295.3 L362.4,294.7 L363.4,294.1 L364.4,293.5 L365.4,292.9 L366.4,292.4 L367.4,291.8 L368.4,291.2 L369.4,290.6 L370.4,290.1 L371.4,289.5 L372.4,288.9 L373.4,288.3 L374.4,287.8 L375.4,287.2 L376.4,286.6 L377.4,286.0 L378.4,285.5 L379.4,284.9 L380.4,284.3 L381.4,283.8 L382.4,283.2 L383.4,282.6 L384.4,282.0 L385.4,281.5 L386.4,280.9 L387.4,280.3 L388.4,279.8 L389.4,279.2 L390.4,278.6 L391.4,278.1 L392.4,277.5 L393.4,276.9 L394.4,276.4 L395.4,275.8 L396.4,275.2 L397.4,274.7 L398.4,274.1 L399.4,273.5 L400.4,272.9 L401.4,272.4 L402.4,271.8 L403.4,271.2 L404.4,270.7 L405.4,270.1 L406.4,269.5 L407.4,269.0 L408.4,268.4 L409.4,267.8 L410.4,267.3 L411.4,266.7 L412.4,266.2 L413.4,265.6 L414.4,265.0 L415.4,264.5 L416.4,263.9 L417.4,263.3 L418.4,262.8 L419.4,262.2 L420.4,261.6 L421.4,261.1 L422.4,260.5 L423.4,259.9 L424.4,259.4 L425.4,258.8 L426.4,258.2 L427.4,257.7 L428.4,257.1 L429.4,256.5 L430.4,256.0 L431.4,255.4 L432.4,254.8 L433.4,254.3 L434.4,253.7" fill="none" stroke="#8a8a8a" stroke-width="0.9" stroke-dasharray="0.9 2.1"/>
<line x1="281.8" y1="342.6" x2="440.0" y2="242.6" stroke="#6a6a6a" stroke-width="1" />
<line x1="278.4" y1="241.3" x2="278.4" y2="346.6" stroke="#5a5a5a" stroke-width="1.2" />
<line x1="277.5" y1="345.7" x2="434.8" y2="345.7" stroke="#444" stroke-width="1.7" />
<g stroke="#dede60" stroke-width="1" opacity="0.9"><line x1="295.8" y1="325.7" x2="311.8" y2="325.7"/><line x1="295.8" y1="323.7" x2="295.8" y2="327.7"/><line x1="311.8" y1="323.7" x2="311.8" y2="327.7"/><line x1="303.8" y1="322.2" x2="303.8" y2="329.2"/><line x1="301.8" y1="322.2" x2="305.8" y2="322.2"/><line x1="301.8" y1="329.2" x2="305.8" y2="329.2"/></g>
<circle cx="303.8" cy="325.7" r="2.6" fill="#c8c81e"/>
<g stroke="#4040c8" stroke-width="1" opacity="0.9"><line x1="332.2" y1="303.8" x2="341.2" y2="303.8"/><line x1="332.2" y1="301.8" x2="332.2" y2="305.8"/><line x1="341.2" y1="301.8" x2="341.2" y2="305.8"/><line x1="336.7" y1="300.8" x2="336.7" y2="306.8"/><line x1="334.7" y1="300.8" x2="338.7" y2="300.8"/><line x1="334.7" y1="306.8" x2="338.7" y2="306.8"/></g>
<circle cx="336.7" cy="303.8" r="2.6" fill="#0a0a84"/>
<g stroke="#4040c8" stroke-width="1" opacity="0.9"><line x1="336.0" y1="306.9" x2="345.0" y2="306.9"/><line x1="336.0" y1="304.9" x2="336.0" y2="308.9"/><line x1="345.0" y1="304.9" x2="345.0" y2="308.9"/><line x1="340.5" y1="303.9" x2="340.5" y2="309.9"/><line x1="338.5" y1="303.9" x2="342.5" y2="303.9"/><line x1="338.5" y1="309.9" x2="342.5" y2="309.9"/></g>
<circle cx="340.5" cy="306.9" r="2.6" fill="#0a0a84"/>
<g stroke="#eba060" stroke-width="1" opacity="0.9"><line x1="339.1" y1="303.1" x2="348.1" y2="303.1"/><line x1="339.1" y1="301.1" x2="339.1" y2="305.1"/><line x1="348.1" y1="301.1" x2="348.1" y2="305.1"/><line x1="343.6" y1="300.1" x2="343.6" y2="306.1"/><line x1="341.6" y1="300.1" x2="345.6" y2="300.1"/><line x1="341.6" y1="306.1" x2="345.6" y2="306.1"/></g>
<circle cx="343.6" cy="303.1" r="2.6" fill="#d2741e"/>
<g stroke="#dede60" stroke-width="1" opacity="0.9"><line x1="343.6" y1="298.4" x2="353.6" y2="298.4"/><line x1="343.6" y1="296.4" x2="343.6" y2="300.4"/><line x1="353.6" y1="296.4" x2="353.6" y2="300.4"/><line x1="348.6" y1="295.4" x2="348.6" y2="301.4"/><line x1="346.6" y1="295.4" x2="350.6" y2="295.4"/><line x1="346.6" y1="301.4" x2="350.6" y2="301.4"/></g>
<circle cx="348.6" cy="298.4" r="2.6" fill="#c8c81e"/>
<g stroke="#4040c8" stroke-width="1" opacity="0.9"><line x1="354.2" y1="292.8" x2="363.2" y2="292.8"/><line x1="354.2" y1="290.8" x2="354.2" y2="294.8"/><line x1="363.2" y1="290.8" x2="363.2" y2="294.8"/><line x1="358.7" y1="289.8" x2="358.7" y2="295.8"/><line x1="356.7" y1="289.8" x2="360.7" y2="289.8"/><line x1="356.7" y1="295.8" x2="360.7" y2="295.8"/></g>
<circle cx="358.7" cy="292.8" r="2.6" fill="#0a0a84"/>
<g stroke="#eba060" stroke-width="1" opacity="0.9"><line x1="358.4" y1="291.2" x2="368.4" y2="291.2"/><line x1="358.4" y1="289.2" x2="358.4" y2="293.2"/><line x1="368.4" y1="289.2" x2="368.4" y2="293.2"/><line x1="363.4" y1="288.2" x2="363.4" y2="294.2"/><line x1="361.4" y1="288.2" x2="365.4" y2="288.2"/><line x1="361.4" y1="294.2" x2="365.4" y2="294.2"/></g>
<circle cx="363.4" cy="291.2" r="2.6" fill="#d2741e"/>
<g stroke="#dede60" stroke-width="1" opacity="0.9"><line x1="401.3" y1="258.9" x2="410.3" y2="258.9"/><line x1="401.3" y1="256.9" x2="401.3" y2="260.9"/><line x1="410.3" y1="256.9" x2="410.3" y2="260.9"/><line x1="405.8" y1="255.9" x2="405.8" y2="261.9"/><line x1="403.8" y1="255.9" x2="407.8" y2="255.9"/><line x1="403.8" y1="261.9" x2="407.8" y2="261.9"/></g>
<circle cx="405.8" cy="258.9" r="2.6" fill="#c8c81e"/>
<text x="260.0" y="228.6" font-size="20" text-anchor="start" font-weight="normal" fill="#000" >c</text>
<text x="276.5" y="244.7" font-size="7.6" text-anchor="end" font-weight="bold" fill="#222" >1400</text>
<text x="276.5" y="270.0" font-size="7.6" text-anchor="end" font-weight="bold" fill="#222" >1300</text>
<text x="276.5" y="296.2" font-size="7.6" text-anchor="end" font-weight="bold" fill="#222" >1200</text>
<text x="276.5" y="322.2" font-size="7.6" text-anchor="end" font-weight="bold" fill="#222" >1100</text>
<text x="276.5" y="348.1" font-size="7.6" text-anchor="end" font-weight="bold" fill="#222" >1000</text>
<text x="278.4" y="358.6" font-size="7.6" text-anchor="middle" font-weight="bold" fill="#222" >1000</text>
<text x="317.2" y="358.6" font-size="7.6" text-anchor="middle" font-weight="bold" fill="#222" >1100</text>
<text x="356.0" y="358.6" font-size="7.6" text-anchor="middle" font-weight="bold" fill="#222" >1200</text>
<text x="394.8" y="358.6" font-size="7.6" text-anchor="middle" font-weight="bold" fill="#222" >1300</text>
<text x="433.6" y="358.6" font-size="7.6" text-anchor="middle" font-weight="bold" fill="#222" >1400</text>
<text x="356.0" y="367.3" font-size="8.8" text-anchor="middle" font-weight="bold" fill="#111" >Manual FAD τ<tspan font-size="6" dy="1.8">m</tspan></text>
<text x="0.0" y="0.0" font-size="9.3" text-anchor="middle" font-weight="bold" fill="#111" style="white-space:pre" transform="translate(253.2,289.5) rotate(-90)">ATM  FAD τ<tspan font-size="6" dy="1.8">m</tspan></text>
<text x="285.8" y="250.7" font-size="8.6" text-anchor="start" font-weight="bold" fill="#222" letter-spacing="0.18">Y = 0.9737*X + 30.66</text>
<text x="285.8" y="260.4" font-size="8.6" text-anchor="start" font-weight="bold" fill="#222" letter-spacing="0.18">R<tspan font-size="5.6" dy="-3.3">2</tspan><tspan dy="3.3"> = 0.9892</tspan></text>
<text x="285.8" y="271.2" font-size="8.6" text-anchor="start" font-weight="bold" fill="#222" letter-spacing="0.18">P = &lt;0.0001</text>
<path d="M500.9,324.6 L501.9,324.1 L502.9,323.6 L503.9,323.0 L504.9,322.5 L505.9,321.9 L506.9,321.4 L507.9,320.8 L508.9,320.3 L509.9,319.7 L510.9,319.2 L511.9,318.6 L512.9,318.0 L513.9,317.5 L514.9,316.9 L515.9,316.4 L516.9,315.8 L517.9,315.3 L518.9,314.7 L519.9,314.2 L520.9,313.6 L521.9,313.1 L522.9,312.5 L523.9,312.0 L524.9,311.4 L525.9,310.8 L526.9,310.3 L527.9,309.7 L528.9,309.2 L529.9,308.6 L530.9,308.1 L531.9,307.5 L532.9,306.9 L533.9,306.4 L534.9,305.8 L535.9,305.2 L536.9,304.7 L537.9,304.1 L538.9,303.5 L539.9,303.0 L540.9,302.4 L541.9,301.8 L542.9,301.3 L543.9,300.7 L544.9,300.1 L545.9,299.6 L546.9,299.0 L547.9,298.4 L548.9,297.8 L549.9,297.2 L550.9,296.7 L551.9,296.1 L552.9,295.5 L553.9,294.9 L554.9,294.3 L555.9,293.7 L556.9,293.1 L557.9,292.5 L558.9,291.9 L559.9,291.3 L560.9,290.7 L561.9,290.1 L562.9,289.5 L563.9,288.9 L564.9,288.2 L565.9,287.6 L566.9,287.0 L567.9,286.4 L568.9,285.7 L569.9,285.1 L570.9,284.5 L571.9,283.8 L572.9,283.2 L573.9,282.5 L574.9,281.9 L575.9,281.2 L576.9,280.6 L577.9,279.9 L578.9,279.2 L579.9,278.5 L580.9,277.9 L581.9,277.2 L582.9,276.5 L583.9,275.8 L584.9,275.1 L585.9,274.5 L586.9,273.8 L587.9,273.1 L588.9,272.4 L589.9,271.7 L590.9,271.0 L591.9,270.3 L592.9,269.6 L593.9,268.9 L594.9,268.2 L595.9,267.4 L596.9,266.7 L597.9,266.0 L598.9,265.3 L599.9,264.6 L600.9,263.9 L601.9,263.1 L602.9,262.4 L603.9,261.7 L604.9,261.0 L605.9,260.3 L606.9,259.5 L607.9,258.8 L608.9,258.1 L609.9,257.4 L610.9,256.6 L611.9,255.9 L612.9,255.2 L613.9,254.4 L614.9,253.7 L615.9,253.0 L616.9,252.2 L617.9,251.5 L618.9,250.8 L619.9,250.0 L620.9,249.3 L621.9,248.6 L622.9,247.8 L623.9,247.1 L624.9,246.4 L625.9,245.6 L626.9,244.9 L627.9,244.1 L628.9,243.4 L629.9,242.7 L630.9,241.9 L631.9,241.2 L632.9,240.5 L633.9,239.7 L634.9,239.0 L635.9,238.2 L636.9,237.5 L637.9,236.8 L638.9,236.0" fill="none" stroke="#8a8a8a" stroke-width="0.9" stroke-dasharray="0.9 2.1"/>
<path d="M509.9,333.9 L510.9,333.2 L511.9,332.5 L512.9,331.7 L513.9,331.0 L514.9,330.2 L515.9,329.5 L516.9,328.8 L517.9,328.0 L518.9,327.3 L519.9,326.6 L520.9,325.8 L521.9,325.1 L522.9,324.4 L523.9,323.6 L524.9,322.9 L525.9,322.2 L526.9,321.4 L527.9,320.7 L528.9,320.0 L529.9,319.2 L530.9,318.5 L531.9,317.8 L532.9,317.0 L533.9,316.3 L534.9,315.6 L535.9,314.9 L536.9,314.1 L537.9,313.4 L538.9,312.7 L539.9,312.0 L540.9,311.2 L541.9,310.5 L542.9,309.8 L543.9,309.1 L544.9,308.4 L545.9,307.6 L546.9,306.9 L547.9,306.2 L548.9,305.5 L549.9,304.8 L550.9,304.1 L551.9,303.4 L552.9,302.7 L553.9,302.0 L554.9,301.3 L555.9,300.6 L556.9,299.9 L557.9,299.2 L558.9,298.5 L559.9,297.8 L560.9,297.1 L561.9,296.5 L562.9,295.8 L563.9,295.1 L564.9,294.4 L565.9,293.8 L566.9,293.1 L567.9,292.4 L568.9,291.8 L569.9,291.1 L570.9,290.5 L571.9,289.8 L572.9,289.2 L573.9,288.5 L574.9,287.9 L575.9,287.3 L576.9,286.6 L577.9,286.0 L578.9,285.4 L579.9,284.8 L580.9,284.2 L581.9,283.5 L582.9,282.9 L583.9,282.3 L584.9,281.7 L585.9,281.1 L586.9,280.5 L587.9,279.9 L588.9,279.3 L589.9,278.7 L590.9,278.1 L591.9,277.6 L592.9,277.0 L593.9,276.4 L594.9,275.8 L595.9,275.2 L596.9,274.7 L597.9,274.1 L598.9,273.5 L599.9,272.9 L600.9,272.4 L601.9,271.8 L602.9,271.2 L603.9,270.6 L604.9,270.1 L605.9,269.5 L606.9,268.9 L607.9,268.4 L608.9,267.8 L609.9,267.3 L610.9,266.7 L611.9,266.1 L612.9,265.6 L613.9,265.0 L614.9,264.5 L615.9,263.9 L616.9,263.3 L617.9,262.8 L618.9,262.2 L619.9,261.7 L620.9,261.1 L621.9,260.6 L622.9,260.0 L623.9,259.4 L624.9,258.9 L625.9,258.3 L626.9,257.8 L627.9,257.2 L628.9,256.7 L629.9,256.1 L630.9,255.6 L631.9,255.0 L632.9,254.5 L633.9,253.9 L634.9,253.4 L635.9,252.8 L636.9,252.3 L637.9,251.7 L638.9,251.2 L639.9,250.6 L640.9,250.1 L641.9,249.5 L642.9,249.0 L643.9,248.4 L644.9,247.9" fill="none" stroke="#8a8a8a" stroke-width="0.9" stroke-dasharray="0.9 2.1"/>
<line x1="501.1" y1="332.5" x2="645.4" y2="239.4" stroke="#6a6a6a" stroke-width="1" />
<line x1="500.9" y1="237.8" x2="500.9" y2="335.4" stroke="#6a6a6a" stroke-width="1.4" />
<line x1="500.2" y1="334.7" x2="645.4" y2="334.7" stroke="#6a6a6a" stroke-width="1.4" />
<g stroke="#dede60" stroke-width="1" opacity="0.9"><line x1="517.3" y1="314.1" x2="532.9" y2="314.1"/><line x1="517.3" y1="312.1" x2="517.3" y2="316.1"/><line x1="532.9" y1="312.1" x2="532.9" y2="316.1"/><line x1="525.1" y1="309.6" x2="525.1" y2="318.6"/><line x1="523.1" y1="309.6" x2="527.1" y2="309.6"/><line x1="523.1" y1="318.6" x2="527.1" y2="318.6"/></g>
<circle cx="525.1" cy="314.1" r="2.6" fill="#c8c81e"/>
<g stroke="#dede60" stroke-width="1" opacity="0.9"><line x1="522.1" y1="314.1" x2="537.1" y2="314.1"/><line x1="522.1" y1="312.1" x2="522.1" y2="316.1"/><line x1="537.1" y1="312.1" x2="537.1" y2="316.1"/><line x1="529.6" y1="309.6" x2="529.6" y2="318.6"/><line x1="527.6" y1="309.6" x2="531.6" y2="309.6"/><line x1="527.6" y1="318.6" x2="531.6" y2="318.6"/></g>
<circle cx="529.6" cy="314.1" r="2.6" fill="#c8c81e"/>
<g stroke="#dede60" stroke-width="1" opacity="0.9"><line x1="535.8" y1="307.2" x2="552.6" y2="307.2"/><line x1="535.8" y1="305.2" x2="535.8" y2="309.2"/><line x1="552.6" y1="305.2" x2="552.6" y2="309.2"/><line x1="544.2" y1="302.4" x2="544.2" y2="312.0"/><line x1="542.2" y1="302.4" x2="546.2" y2="302.4"/><line x1="542.2" y1="312.0" x2="546.2" y2="312.0"/></g>
<circle cx="544.2" cy="307.2" r="2.6" fill="#c8c81e"/>
<g stroke="#4040c8" stroke-width="1" opacity="0.9"><line x1="560.7" y1="297.3" x2="574.7" y2="297.3"/><line x1="560.7" y1="295.3" x2="560.7" y2="299.3"/><line x1="574.7" y1="295.3" x2="574.7" y2="299.3"/><line x1="567.7" y1="293.6" x2="567.7" y2="301.0"/><line x1="565.7" y1="293.6" x2="569.7" y2="293.6"/><line x1="565.7" y1="301.0" x2="569.7" y2="301.0"/></g>
<circle cx="567.7" cy="297.3" r="2.6" fill="#0a0a84"/>
<g stroke="#4040c8" stroke-width="1" opacity="0.9"><line x1="570.0" y1="276.9" x2="584.8" y2="276.9"/><line x1="570.0" y1="274.9" x2="570.0" y2="278.9"/><line x1="584.8" y1="274.9" x2="584.8" y2="278.9"/><line x1="577.4" y1="272.4" x2="577.4" y2="281.4"/><line x1="575.4" y1="272.4" x2="579.4" y2="272.4"/><line x1="575.4" y1="281.4" x2="579.4" y2="281.4"/></g>
<circle cx="577.4" cy="276.9" r="2.6" fill="#0a0a84"/>
<g stroke="#4040c8" stroke-width="1" opacity="0.9"><line x1="582.4" y1="274.9" x2="592.4" y2="274.9"/><line x1="582.4" y1="272.9" x2="582.4" y2="276.9"/><line x1="592.4" y1="272.9" x2="592.4" y2="276.9"/><line x1="587.4" y1="270.4" x2="587.4" y2="279.4"/><line x1="585.4" y1="270.4" x2="589.4" y2="270.4"/><line x1="585.4" y1="279.4" x2="589.4" y2="279.4"/></g>
<circle cx="587.4" cy="274.9" r="2.6" fill="#0a0a84"/>
<g stroke="#eba060" stroke-width="1" opacity="0.9"><line x1="577.9" y1="280.5" x2="588.9" y2="280.5"/><line x1="577.9" y1="278.5" x2="577.9" y2="282.5"/><line x1="588.9" y1="278.5" x2="588.9" y2="282.5"/><line x1="583.4" y1="276.5" x2="583.4" y2="284.5"/><line x1="581.4" y1="276.5" x2="585.4" y2="276.5"/><line x1="581.4" y1="284.5" x2="585.4" y2="284.5"/></g>
<circle cx="583.4" cy="280.5" r="2.6" fill="#d2741e"/>
<g stroke="#eba060" stroke-width="1" opacity="0.9"><line x1="586.9" y1="274.9" x2="597.9" y2="274.9"/><line x1="586.9" y1="272.9" x2="586.9" y2="276.9"/><line x1="597.9" y1="272.9" x2="597.9" y2="276.9"/><line x1="592.4" y1="271.1" x2="592.4" y2="278.7"/><line x1="590.4" y1="271.1" x2="594.4" y2="271.1"/><line x1="590.4" y1="278.7" x2="594.4" y2="278.7"/></g>
<circle cx="592.4" cy="274.9" r="2.6" fill="#d2741e"/>
<g stroke="#eba060" stroke-width="1" opacity="0.9"><line x1="609.7" y1="256.7" x2="621.3" y2="256.7"/><line x1="609.7" y1="254.7" x2="609.7" y2="258.7"/><line x1="621.3" y1="254.7" x2="621.3" y2="258.7"/><line x1="615.5" y1="253.0" x2="615.5" y2="260.4"/><line x1="613.5" y1="253.0" x2="617.5" y2="253.0"/><line x1="613.5" y1="260.4" x2="617.5" y2="260.4"/></g>
<circle cx="615.5" cy="256.7" r="2.6" fill="#d2741e"/>
<text x="444.5" y="225.8" font-size="20" text-anchor="start" font-weight="normal" fill="#000" >d</text>
<text x="497.5" y="241.5" font-size="7.4" text-anchor="end" font-weight="bold" fill="#222" >0.80</text>
<text x="497.5" y="260.3" font-size="7.4" text-anchor="end" font-weight="bold" fill="#222" >0.78</text>
<text x="497.5" y="279.9" font-size="7.4" text-anchor="end" font-weight="bold" fill="#222" >0.76</text>
<text x="497.5" y="299.4" font-size="7.4" text-anchor="end" font-weight="bold" fill="#222" >0.74</text>
<text x="497.5" y="318.2" font-size="7.4" text-anchor="end" font-weight="bold" fill="#222" >0.72</text>
<text x="497.5" y="337.4" font-size="7.4" text-anchor="end" font-weight="bold" fill="#222" >0.70</text>
<text x="500.9" y="347.4" font-size="7.4" text-anchor="middle" font-weight="bold" fill="#222" >0.70</text>
<text x="529.7" y="347.4" font-size="7.4" text-anchor="middle" font-weight="bold" fill="#222" >0.72</text>
<text x="558.5" y="347.4" font-size="7.4" text-anchor="middle" font-weight="bold" fill="#222" >0.74</text>
<text x="587.2" y="347.4" font-size="7.4" text-anchor="middle" font-weight="bold" fill="#222" >0.76</text>
<text x="616.3" y="347.4" font-size="7.4" text-anchor="middle" font-weight="bold" fill="#222" >0.78</text>
<text x="645.4" y="347.4" font-size="7.4" text-anchor="middle" font-weight="bold" fill="#222" >0.80</text>
<text x="571.8" y="354.8" font-size="8.1" text-anchor="middle" font-weight="bold" fill="#111" >Manual ORR</text>
<text x="572.5" y="363.6" font-size="8.0" text-anchor="middle" font-weight="bold" fill="#111" >NAD(P)H/[NAD(P)H+FAD]</text>
<text x="0.0" y="0.0" font-size="8.6" text-anchor="middle" font-weight="bold" fill="#111" style="white-space:pre" transform="translate(460.2,282.3) rotate(-90)">ATM  ORR</text>
<text x="0.0" y="0.0" font-size="8.1" text-anchor="middle" font-weight="bold" fill="#111" transform="translate(469.9,290.9) rotate(-90)">NAD(P)H/[NAD(P)H+FAD]</text>
<text x="505.8" y="248.0" font-size="8.3" text-anchor="start" font-weight="bold" fill="#222" >Y = 0.9845*X + 0.01188</text>
<text x="505.8" y="256.9" font-size="8.3" text-anchor="start" font-weight="bold" fill="#222" >R<tspan font-size="5.4" dy="-3.2">2</tspan><tspan dy="3.2"> = 0.9644</tspan></text>
<text x="505.8" y="266.6" font-size="8.3" text-anchor="start" font-weight="bold" fill="#222" >P = &lt;0.0001</text>
<rect x="267.5" y="376.8" width="171.8" height="18.6" rx="3.2" fill="#fff" stroke="#a4a4a4" stroke-width="1.4"/>
<rect x="272.6" y="382" width="17" height="8" fill="#0a0a8a" stroke="#606060" stroke-width="0.5"/>
<rect x="336.7" y="382" width="17" height="8" fill="#d87818" stroke="#606060" stroke-width="0.5"/>
<rect x="395.9" y="382" width="17" height="8" fill="#d4d418" stroke="#606060" stroke-width="0.5"/>
<text x="293.45" y="389.50" font-size="8.8" font-weight="normal" fill="#2a2a2a" textLength="27.80" lengthAdjust="spacingAndGlyphs" >Control</text>
<text x="357.05" y="389.50" font-size="8.8" font-weight="normal" fill="#2a2a2a" textLength="23.80" lengthAdjust="spacingAndGlyphs" >NaCN</text>
<text x="416.65" y="389.50" font-size="8.8" font-weight="normal" fill="#2a2a2a" textLength="18.00" lengthAdjust="spacingAndGlyphs" >2DG</text>
<line x1="41.1" y1="431.0" x2="41.1" y2="556.6" stroke="#555" stroke-width="1.1" />
<line x1="41.1" y1="556.6" x2="214.9" y2="556.6" stroke="#555" stroke-width="1.1" />
<path d="M70.20,466.80 L70.20,466.80 L69.88,467.29 L69.59,467.79 L69.34,468.28 L69.12,468.77 L68.91,469.26 L68.70,469.76 L68.48,470.25 L68.25,470.74 L67.99,471.23 L67.70,471.73 L67.35,472.22 L66.93,472.71 L66.47,473.20 L65.96,473.70 L65.42,474.19 L64.88,474.68 L64.33,475.17 L63.80,475.67 L63.29,476.16 L62.80,476.65 L62.30,477.14 L61.79,477.64 L61.29,478.13 L60.79,478.62 L60.30,479.11 L59.81,479.61 L59.34,480.10 L58.87,480.59 L58.41,481.08 L57.96,481.58 L57.51,482.07 L57.07,482.56 L56.64,483.05 L56.21,483.55 L55.79,484.04 L55.39,484.53 L54.99,485.02 L54.59,485.52 L54.19,486.01 L53.80,486.50 L53.42,486.99 L53.06,487.49 L52.71,487.98 L52.38,488.47 L52.07,488.96 L51.77,489.46 L51.45,489.95 L51.12,490.44 L50.81,490.93 L50.53,491.43 L50.28,491.92 L50.10,492.41 L49.98,492.90 L49.95,493.40 L49.95,493.89 L49.95,494.38 L49.95,494.87 L49.95,495.37 L49.95,495.86 L49.95,496.35 L49.95,496.84 L49.95,497.34 L49.95,497.83 L49.98,498.32 L50.04,498.81 L50.11,499.31 L50.21,499.80 L50.32,500.29 L50.45,500.78 L50.58,501.28 L50.71,501.77 L50.86,502.26 L51.04,502.75 L51.26,503.25 L51.51,503.74 L51.79,504.23 L52.10,504.72 L52.43,505.22 L52.78,505.71 L53.15,506.20 L53.58,506.69 L54.09,507.19 L54.66,507.68 L55.30,508.17 L55.96,508.66 L56.66,509.16 L57.36,509.65 L58.06,510.14 L58.73,510.63 L59.43,511.13 L60.16,511.62 L60.91,512.11 L61.67,512.60 L62.43,513.10 L63.18,513.59 L63.92,514.08 L64.63,514.57 L65.33,515.07 L66.06,515.56 L66.81,516.05 L67.55,516.54 L68.25,517.04 L68.87,517.53 L69.38,518.02 L69.76,518.51 L70.00,519.01 L70.20,519.50 L70.20,519.50 Z" fill="#e8a06c" stroke="#5a5a5a" stroke-width="1.1" stroke-linejoin="round"/>
<path d="M70.20,469.00 L70.20,469.00 L70.59,469.49 L70.96,469.98 L71.30,470.47 L71.63,470.96 L71.95,471.45 L72.27,471.94 L72.59,472.43 L72.93,472.92 L73.29,473.41 L73.67,473.90 L74.08,474.39 L74.52,474.88 L74.99,475.37 L75.48,475.86 L75.98,476.35 L76.49,476.84 L77.01,477.33 L77.54,477.82 L78.06,478.31 L78.58,478.80 L79.11,479.29 L79.66,479.78 L80.21,480.27 L80.76,480.76 L81.32,481.24 L81.88,481.73 L82.43,482.22 L82.98,482.71 L83.53,483.20 L84.10,483.69 L84.67,484.18 L85.23,484.67 L85.79,485.16 L86.34,485.65 L86.87,486.14 L87.38,486.63 L87.87,487.12 L88.36,487.61 L88.85,488.10 L89.33,488.59 L89.80,489.08 L90.24,489.57 L90.66,490.06 L91.03,490.55 L91.36,491.04 L91.64,491.53 L91.94,492.02 L92.22,492.51 L92.49,493.00 L92.72,493.49 L92.90,493.98 L93.02,494.47 L93.05,494.96 L93.00,495.45 L92.87,495.94 L92.69,496.43 L92.46,496.92 L92.20,497.41 L91.92,497.90 L91.63,498.39 L91.35,498.88 L91.03,499.37 L90.67,499.86 L90.28,500.35 L89.85,500.84 L89.40,501.33 L88.91,501.82 L88.40,502.31 L87.87,502.80 L87.32,503.29 L86.69,503.78 L85.99,504.27 L85.25,504.76 L84.47,505.24 L83.68,505.73 L82.89,506.22 L82.12,506.71 L81.39,507.20 L80.68,507.69 L79.98,508.18 L79.27,508.67 L78.56,509.16 L77.87,509.65 L77.19,510.14 L76.54,510.63 L75.92,511.12 L75.34,511.61 L74.78,512.10 L74.24,512.59 L73.72,513.08 L73.21,513.57 L72.73,514.06 L72.26,514.55 L71.81,515.04 L71.37,515.53 L70.95,516.02 L70.57,516.51 L70.20,517.00 L70.20,517.00 Z" fill="#65a8e0" stroke="#5a5a5a" stroke-width="1.1" stroke-linejoin="round"/>
<line x1="53.9" y1="487.1" x2="70.2" y2="487.1" stroke="#5a5a5a" stroke-width="1.1" stroke-dasharray="2 1.6"/>
<line x1="50.6" y1="495.2" x2="70.2" y2="495.2" stroke="#5a5a5a" stroke-width="1.1" stroke-dasharray="4 2.5"/>
<line x1="51.9" y1="503.3" x2="70.2" y2="503.3" stroke="#5a5a5a" stroke-width="1.1" stroke-dasharray="2 1.6"/>
<line x1="70.2" y1="487.9" x2="88.0" y2="487.9" stroke="#5a5a5a" stroke-width="1.1" stroke-dasharray="2 1.6"/>
<line x1="70.2" y1="494.9" x2="92.5" y2="494.9" stroke="#5a5a5a" stroke-width="1.1" stroke-dasharray="4 2.5"/>
<line x1="70.2" y1="502.6" x2="87.5" y2="502.6" stroke="#5a5a5a" stroke-width="1.1" stroke-dasharray="2 1.6"/>
<path d="M70.2,456.7 L70.2,468.8 M70.2,517.5 L70.2,529.5" stroke="#5a5a5a" stroke-width="1.8" fill="none"/>
<line x1="70.2" y1="466.8" x2="70.2" y2="519.5" stroke="#5a5a5a" stroke-width="1.0" />
<path d="M127.50,478.00 L127.50,478.00 L127.18,478.49 L126.88,478.98 L126.60,479.47 L126.35,479.96 L126.11,480.45 L125.88,480.95 L125.67,481.44 L125.46,481.93 L125.26,482.42 L125.06,482.91 L124.86,483.40 L124.66,483.89 L124.45,484.38 L124.23,484.87 L124.00,485.36 L123.76,485.86 L123.51,486.35 L123.23,486.84 L122.93,487.33 L122.61,487.82 L122.25,488.31 L121.87,488.80 L121.47,489.29 L121.04,489.78 L120.59,490.27 L120.13,490.77 L119.65,491.26 L119.16,491.75 L118.65,492.24 L118.14,492.73 L117.62,493.22 L117.05,493.71 L116.43,494.20 L115.77,494.69 L115.09,495.18 L114.38,495.68 L113.68,496.17 L112.98,496.66 L112.30,497.15 L111.66,497.64 L111.06,498.13 L110.52,498.62 L110.05,499.11 L109.58,499.60 L109.12,500.09 L108.66,500.59 L108.21,501.08 L107.79,501.57 L107.39,502.06 L107.02,502.55 L106.69,503.04 L106.41,503.53 L106.18,504.02 L106.00,504.51 L105.88,505.00 L105.76,505.50 L105.65,505.99 L105.55,506.48 L105.46,506.97 L105.39,507.46 L105.33,507.95 L105.28,508.44 L105.26,508.93 L105.25,509.42 L105.31,509.91 L105.42,510.41 L105.60,510.90 L105.82,511.39 L106.08,511.88 L106.36,512.37 L106.67,512.86 L106.99,513.35 L107.31,513.84 L107.66,514.33 L108.09,514.82 L108.59,515.32 L109.14,515.81 L109.73,516.30 L110.37,516.79 L111.03,517.28 L111.71,517.77 L112.39,518.26 L113.08,518.75 L113.75,519.24 L114.39,519.73 L115.05,520.23 L115.75,520.72 L116.47,521.21 L117.21,521.70 L117.96,522.19 L118.71,522.68 L119.44,523.17 L120.15,523.66 L120.83,524.15 L121.47,524.64 L122.05,525.14 L122.58,525.63 L123.10,526.12 L123.61,526.61 L124.12,527.10 L124.62,527.59 L125.09,528.08 L125.54,528.57 L125.96,529.06 L126.34,529.55 L126.67,530.05 L126.94,530.54 L127.16,531.03 L127.31,531.52 L127.41,532.01 L127.50,532.50 L127.50,532.50 Z" fill="#e8a06c" stroke="#5a5a5a" stroke-width="1.1" stroke-linejoin="round"/>
<path d="M127.50,475.50 L127.50,475.50 L127.61,475.99 L127.73,476.48 L127.87,476.97 L128.07,477.47 L128.31,477.96 L128.59,478.45 L128.90,478.94 L129.22,479.43 L129.54,479.92 L129.86,480.41 L130.17,480.91 L130.44,481.40 L130.69,481.89 L130.92,482.38 L131.13,482.87 L131.34,483.36 L131.54,483.85 L131.73,484.34 L131.93,484.84 L132.13,485.33 L132.34,485.82 L132.56,486.31 L132.79,486.80 L133.05,487.29 L133.32,487.78 L133.60,488.28 L133.90,488.77 L134.21,489.26 L134.54,489.75 L134.88,490.24 L135.22,490.73 L135.58,491.22 L135.95,491.72 L136.34,492.21 L136.72,492.70 L137.12,493.19 L137.54,493.68 L137.99,494.17 L138.46,494.66 L138.95,495.16 L139.45,495.65 L139.96,496.14 L140.48,496.63 L141.00,497.12 L141.52,497.61 L142.04,498.10 L142.54,498.59 L143.04,499.09 L143.55,499.58 L144.08,500.07 L144.63,500.56 L145.17,501.05 L145.71,501.54 L146.25,502.03 L146.76,502.53 L147.25,503.02 L147.71,503.51 L148.13,504.00 L148.51,504.49 L148.84,504.98 L149.19,505.47 L149.53,505.97 L149.84,506.46 L150.11,506.95 L150.32,507.44 L150.43,507.93 L150.44,508.42 L150.33,508.91 L150.13,509.41 L149.83,509.90 L149.47,510.39 L149.03,510.88 L148.55,511.37 L148.03,511.86 L147.49,512.35 L146.93,512.84 L146.38,513.34 L145.83,513.83 L145.26,514.32 L144.60,514.81 L143.86,515.30 L143.06,515.79 L142.22,516.28 L141.35,516.78 L140.47,517.27 L139.60,517.76 L138.75,518.25 L137.95,518.74 L137.20,519.23 L136.52,519.72 L135.88,520.22 L135.24,520.71 L134.60,521.20 L133.98,521.69 L133.37,522.18 L132.78,522.67 L132.23,523.16 L131.71,523.66 L131.22,524.15 L130.79,524.64 L130.40,525.13 L130.07,525.62 L129.76,526.11 L129.45,526.60 L129.15,527.09 L128.87,527.59 L128.60,528.08 L128.35,528.57 L128.13,529.06 L127.94,529.55 L127.78,530.04 L127.66,530.53 L127.58,531.03 L127.54,531.52 L127.52,532.01 L127.50,532.50 L127.50,532.50 Z" fill="#65a8e0" stroke="#5a5a5a" stroke-width="1.1" stroke-linejoin="round"/>
<line x1="109.5" y1="500.3" x2="127.5" y2="500.3" stroke="#5a5a5a" stroke-width="1.1" stroke-dasharray="2 1.6"/>
<line x1="105.9" y1="507.9" x2="127.5" y2="507.9" stroke="#5a5a5a" stroke-width="1.1" stroke-dasharray="4 2.5"/>
<line x1="107.8" y1="513.7" x2="127.5" y2="513.7" stroke="#5a5a5a" stroke-width="1.1" stroke-dasharray="2 1.6"/>
<line x1="127.5" y1="498.7" x2="142.0" y2="498.7" stroke="#5a5a5a" stroke-width="1.1" stroke-dasharray="2 1.6"/>
<line x1="127.5" y1="506.5" x2="149.3" y2="506.5" stroke="#5a5a5a" stroke-width="1.1" stroke-dasharray="4 2.5"/>
<line x1="127.5" y1="513.7" x2="145.4" y2="513.7" stroke="#5a5a5a" stroke-width="1.1" stroke-dasharray="2 1.6"/>
<path d="M127.5,456.9 L127.5,477.5 M127.5,530.5 L127.5,551.6" stroke="#5a5a5a" stroke-width="1.8" fill="none"/>
<line x1="127.5" y1="475.5" x2="127.5" y2="532.5" stroke="#5a5a5a" stroke-width="1.0" />
<path d="M185.10,448.50 L185.10,448.50 L185.05,448.99 L185.00,449.48 L184.94,449.98 L184.86,450.47 L184.77,450.96 L184.66,451.45 L184.54,451.94 L184.41,452.43 L184.28,452.93 L184.14,453.42 L184.00,453.91 L183.85,454.40 L183.70,454.89 L183.56,455.38 L183.41,455.88 L183.28,456.37 L183.15,456.86 L183.03,457.35 L182.91,457.84 L182.79,458.33 L182.67,458.83 L182.54,459.32 L182.40,459.81 L182.25,460.30 L182.09,460.79 L181.90,461.29 L181.70,461.78 L181.47,462.27 L181.16,462.76 L180.74,463.25 L180.22,463.74 L179.62,464.24 L178.96,464.73 L178.25,465.22 L177.53,465.71 L176.80,466.20 L176.08,466.69 L175.40,467.19 L174.74,467.68 L174.04,468.17 L173.32,468.66 L172.58,469.15 L171.84,469.64 L171.11,470.14 L170.40,470.63 L169.73,471.12 L169.11,471.61 L168.55,472.10 L168.04,472.60 L167.54,473.09 L167.04,473.58 L166.57,474.07 L166.11,474.56 L165.69,475.05 L165.30,475.55 L164.96,476.04 L164.66,476.53 L164.42,477.02 L164.23,477.51 L164.05,478.00 L163.88,478.50 L163.72,478.99 L163.57,479.48 L163.44,479.97 L163.33,480.46 L163.24,480.95 L163.18,481.45 L163.15,481.94 L163.16,482.43 L163.21,482.92 L163.30,483.41 L163.43,483.90 L163.59,484.40 L163.77,484.89 L163.97,485.38 L164.18,485.87 L164.41,486.36 L164.64,486.86 L164.87,487.35 L165.17,487.84 L165.52,488.33 L165.91,488.82 L166.34,489.31 L166.80,489.81 L167.28,490.30 L167.77,490.79 L168.26,491.28 L168.74,491.77 L169.20,492.26 L169.67,492.76 L170.16,493.25 L170.65,493.74 L171.15,494.23 L171.65,494.72 L172.17,495.21 L172.68,495.71 L173.20,496.20 L173.72,496.69 L174.24,497.18 L174.77,497.67 L175.31,498.17 L175.86,498.66 L176.41,499.15 L176.96,499.64 L177.51,500.13 L178.05,500.62 L178.60,501.12 L179.13,501.61 L179.66,502.10 L180.20,502.59 L180.75,503.08 L181.32,503.57 L181.88,504.07 L182.43,504.56 L182.96,505.05 L183.45,505.54 L183.90,506.03 L184.29,506.52 L184.62,507.02 L184.87,507.51 L185.10,508.00 L185.10,508.00 Z" fill="#e8a06c" stroke="#5a5a5a" stroke-width="1.1" stroke-linejoin="round"/>
<path d="M185.10,451.00 L185.10,451.00 L185.25,451.49 L185.41,451.98 L185.58,452.47 L185.75,452.97 L185.94,453.46 L186.12,453.95 L186.31,454.44 L186.51,454.93 L186.72,455.42 L186.93,455.91 L187.15,456.41 L187.38,456.90 L187.62,457.39 L187.86,457.88 L188.12,458.37 L188.40,458.86 L188.69,459.35 L189.00,459.84 L189.32,460.34 L189.66,460.83 L190.02,461.32 L190.40,461.81 L190.78,462.30 L191.18,462.79 L191.60,463.28 L192.02,463.78 L192.46,464.27 L192.91,464.76 L193.39,465.25 L193.91,465.74 L194.48,466.23 L195.07,466.72 L195.69,467.22 L196.32,467.71 L196.96,468.20 L197.60,468.69 L198.23,469.18 L198.84,469.67 L199.43,470.16 L199.98,470.66 L200.50,471.15 L201.02,471.64 L201.54,472.13 L202.06,472.62 L202.58,473.11 L203.09,473.60 L203.58,474.09 L204.05,474.59 L204.49,475.08 L204.90,475.57 L205.27,476.06 L205.60,476.55 L205.87,477.04 L206.11,477.53 L206.34,478.03 L206.57,478.52 L206.78,479.01 L206.98,479.50 L207.16,479.99 L207.31,480.48 L207.43,480.97 L207.51,481.47 L207.55,481.96 L207.54,482.45 L207.49,482.94 L207.40,483.43 L207.29,483.92 L207.14,484.41 L206.96,484.91 L206.76,485.40 L206.55,485.89 L206.31,486.38 L206.07,486.87 L205.79,487.36 L205.39,487.85 L204.86,488.34 L204.24,488.84 L203.54,489.33 L202.78,489.82 L201.98,490.31 L201.18,490.80 L200.38,491.29 L199.61,491.78 L198.89,492.28 L198.15,492.77 L197.37,493.26 L196.57,493.75 L195.76,494.24 L194.96,494.73 L194.18,495.22 L193.43,495.72 L192.73,496.21 L192.10,496.70 L191.54,497.19 L191.01,497.68 L190.49,498.17 L190.00,498.66 L189.53,499.16 L189.08,499.65 L188.66,500.14 L188.27,500.63 L187.91,501.12 L187.58,501.61 L187.29,502.10 L187.01,502.59 L186.74,503.09 L186.48,503.58 L186.24,504.07 L186.01,504.56 L185.80,505.05 L185.62,505.54 L185.46,506.03 L185.33,506.53 L185.23,507.02 L185.16,507.51 L185.10,508.00 L185.10,508.00 Z" fill="#65a8e0" stroke="#5a5a5a" stroke-width="1.1" stroke-linejoin="round"/>
<line x1="166.6" y1="474.7" x2="185.1" y2="474.7" stroke="#5a5a5a" stroke-width="1.1" stroke-dasharray="2 1.6"/>
<line x1="163.8" y1="482.4" x2="185.1" y2="482.4" stroke="#5a5a5a" stroke-width="1.1" stroke-dasharray="4 2.5"/>
<line x1="167.8" y1="490.2" x2="185.1" y2="490.2" stroke="#5a5a5a" stroke-width="1.1" stroke-dasharray="2 1.6"/>
<line x1="185.1" y1="473.7" x2="202.6" y2="473.7" stroke="#5a5a5a" stroke-width="1.1" stroke-dasharray="2 1.6"/>
<line x1="185.1" y1="481.9" x2="206.9" y2="481.9" stroke="#5a5a5a" stroke-width="1.1" stroke-dasharray="4 2.5"/>
<line x1="185.1" y1="488.6" x2="204.0" y2="488.6" stroke="#5a5a5a" stroke-width="1.1" stroke-dasharray="2 1.6"/>
<path d="M185.1,436.9 L185.1,450.5 M185.1,506.0 L185.1,524.1" stroke="#5a5a5a" stroke-width="1.8" fill="none"/>
<line x1="185.1" y1="448.5" x2="185.1" y2="508.0" stroke="#5a5a5a" stroke-width="1.0" />
<text x="21.3" y="422.0" font-size="21" text-anchor="start" font-weight="normal" fill="#000" >e</text>
<text x="14.87" y="457.10" font-size="8.2" font-weight="normal" fill="#4a4a4a" textLength="18.46" lengthAdjust="spacingAndGlyphs" >1200</text>
<text x="14.87" y="486.70" font-size="8.2" font-weight="normal" fill="#4a4a4a" textLength="18.46" lengthAdjust="spacingAndGlyphs" >1000</text>
<text x="19.37" y="515.90" font-size="8.2" font-weight="normal" fill="#4a4a4a" textLength="13.96" lengthAdjust="spacingAndGlyphs" >800</text>
<text x="19.37" y="545.10" font-size="8.2" font-weight="normal" fill="#4a4a4a" textLength="13.96" lengthAdjust="spacingAndGlyphs" >600</text>
<text x="55.96" y="571.20" font-size="8.4" font-weight="normal" fill="#333" textLength="27.57" lengthAdjust="spacingAndGlyphs" >Control</text>
<text x="116.46" y="571.20" font-size="8.4" font-weight="normal" fill="#333" textLength="22.47" lengthAdjust="spacingAndGlyphs" >NaCN</text>
<text x="175.66" y="571.20" font-size="8.4" font-weight="normal" fill="#333" textLength="17.07" lengthAdjust="spacingAndGlyphs" >2DG</text>
<text x="0" y="0" text-anchor="middle" font-size="8.3" font-weight="normal" fill="#333" textLength="73.06" lengthAdjust="spacingAndGlyphs" transform="translate(6.60,495.00) rotate(-90)" >NAD(P)H τ<tspan font-size="6.2" font-style="italic" dy="1.6">m</tspan><tspan dy="-1.6"> (ps)</tspan></text>
<line x1="71.2" y1="425.4" x2="188.0" y2="425.4" stroke="#555" stroke-width="1.1" />
<line x1="71.2" y1="446.9" x2="128.3" y2="446.9" stroke="#555" stroke-width="1.1" />
<line x1="273.8" y1="432.1" x2="273.8" y2="558.3" stroke="#555" stroke-width="1.1" />
<line x1="273.8" y1="558.3" x2="436.4" y2="558.3" stroke="#555" stroke-width="1.1" />
<path d="M302.45,469.80 L302.45,469.80 L302.13,470.29 L301.79,470.78 L301.40,471.27 L300.97,471.77 L300.51,472.26 L300.01,472.75 L299.48,473.24 L298.91,473.73 L298.28,474.22 L297.58,474.71 L296.81,475.21 L295.98,475.70 L295.13,476.19 L294.26,476.68 L293.39,477.17 L292.53,477.66 L291.69,478.15 L290.80,478.65 L289.88,479.14 L288.96,479.63 L288.06,480.12 L287.19,480.61 L286.39,481.10 L285.67,481.59 L285.04,482.08 L284.43,482.58 L283.84,483.07 L283.28,483.56 L282.77,484.05 L282.30,484.54 L281.89,485.03 L281.55,485.52 L281.29,486.02 L281.04,486.51 L280.80,487.00 L280.58,487.49 L280.41,487.98 L280.28,488.47 L280.21,488.96 L280.22,489.46 L280.38,489.95 L280.66,490.44 L281.04,490.93 L281.51,491.42 L282.02,491.91 L282.57,492.40 L283.15,492.90 L283.98,493.39 L285.02,493.88 L286.15,494.37 L287.27,494.86 L288.25,495.35 L289.00,495.84 L289.63,496.34 L290.23,496.83 L290.79,497.32 L291.30,497.81 L291.77,498.30 L292.20,498.79 L292.58,499.28 L292.92,499.78 L293.21,500.27 L293.48,500.76 L293.72,501.25 L293.95,501.74 L294.17,502.23 L294.39,502.72 L294.61,503.22 L294.85,503.71 L295.09,504.20 L295.32,504.69 L295.55,505.18 L295.79,505.67 L296.02,506.16 L296.27,506.65 L296.54,507.15 L296.82,507.64 L297.14,508.13 L297.48,508.62 L297.84,509.11 L298.21,509.60 L298.60,510.09 L298.99,510.59 L299.38,511.08 L299.75,511.57 L300.14,512.06 L300.55,512.55 L300.96,513.04 L301.36,513.53 L301.71,514.03 L302.01,514.52 L302.24,515.01 L302.45,515.50 L302.45,515.50 Z" fill="#e8a06c" stroke="#5a5a5a" stroke-width="1.1" stroke-linejoin="round"/>
<path d="M302.45,469.00 L302.45,469.00 L302.62,469.49 L302.84,469.98 L303.17,470.47 L303.60,470.96 L304.10,471.45 L304.67,471.94 L305.29,472.43 L305.94,472.92 L306.62,473.41 L307.30,473.90 L308.02,474.39 L308.84,474.88 L309.72,475.37 L310.65,475.86 L311.58,476.35 L312.51,476.84 L313.40,477.32 L314.22,477.81 L315.01,478.30 L315.79,478.79 L316.57,479.28 L317.32,479.77 L318.05,480.26 L318.74,480.75 L319.40,481.24 L320.02,481.73 L320.61,482.22 L321.19,482.71 L321.77,483.20 L322.32,483.69 L322.83,484.18 L323.30,484.67 L323.70,485.16 L324.02,485.65 L324.28,486.14 L324.52,486.63 L324.76,487.12 L324.96,487.61 L325.13,488.10 L325.24,488.59 L325.30,489.08 L325.25,489.57 L325.02,490.06 L324.65,490.55 L324.16,491.04 L323.59,491.53 L322.98,492.02 L322.35,492.51 L321.69,492.99 L320.84,493.48 L319.84,493.97 L318.78,494.46 L317.70,494.95 L316.69,495.44 L315.78,495.93 L314.87,496.42 L313.97,496.91 L313.08,497.40 L312.22,497.89 L311.41,498.38 L310.66,498.87 L309.99,499.36 L309.41,499.85 L308.87,500.34 L308.36,500.83 L307.87,501.32 L307.43,501.81 L307.02,502.30 L306.64,502.79 L306.30,503.28 L306.00,503.77 L305.72,504.26 L305.47,504.75 L305.23,505.24 L305.00,505.73 L304.80,506.22 L304.61,506.71 L304.43,507.20 L304.27,507.69 L304.12,508.18 L303.99,508.66 L303.86,509.15 L303.73,509.64 L303.62,510.13 L303.51,510.62 L303.40,511.11 L303.29,511.60 L303.19,512.09 L303.08,512.58 L302.97,513.07 L302.85,513.56 L302.73,514.05 L302.63,514.54 L302.55,515.03 L302.50,515.52 L302.47,516.01 L302.45,516.50 L302.45,516.50 Z" fill="#65a8e0" stroke="#5a5a5a" stroke-width="1.1" stroke-linejoin="round"/>
<line x1="284.2" y1="483.3" x2="302.4" y2="483.3" stroke="#5a5a5a" stroke-width="1.1" stroke-dasharray="2 1.6"/>
<line x1="280.8" y1="489.4" x2="302.4" y2="489.4" stroke="#5a5a5a" stroke-width="1.1" stroke-dasharray="4 2.5"/>
<line x1="288.0" y1="494.9" x2="302.4" y2="494.9" stroke="#5a5a5a" stroke-width="1.1" stroke-dasharray="2 1.6"/>
<line x1="302.4" y1="483.8" x2="321.8" y2="483.8" stroke="#5a5a5a" stroke-width="1.1" stroke-dasharray="2 1.6"/>
<line x1="302.4" y1="489.4" x2="324.7" y2="489.4" stroke="#5a5a5a" stroke-width="1.1" stroke-dasharray="4 2.5"/>
<line x1="302.4" y1="494.2" x2="318.8" y2="494.2" stroke="#5a5a5a" stroke-width="1.1" stroke-dasharray="2 1.6"/>
<path d="M302.4,463.4 L302.4,471.0 M302.4,514.5 L302.4,523.8" stroke="#5a5a5a" stroke-width="1.8" fill="none"/>
<line x1="302.4" y1="469.0" x2="302.4" y2="516.5" stroke="#5a5a5a" stroke-width="1.0" />
<path d="M360.10,469.00 L360.10,469.00 L359.99,469.49 L359.86,469.97 L359.62,470.46 L359.26,470.95 L358.80,471.44 L358.26,471.92 L357.67,472.41 L357.05,472.90 L356.42,473.38 L355.80,473.87 L355.10,474.36 L354.34,474.84 L353.54,475.33 L352.71,475.82 L351.88,476.31 L351.06,476.79 L350.28,477.28 L349.52,477.77 L348.74,478.25 L347.97,478.74 L347.21,479.23 L346.47,479.71 L345.77,480.20 L345.11,480.69 L344.52,481.18 L343.93,481.66 L343.37,482.15 L342.83,482.64 L342.33,483.12 L341.86,483.61 L341.45,484.10 L341.09,484.58 L340.74,485.07 L340.38,485.56 L340.07,486.05 L339.82,486.53 L339.67,487.02 L339.66,487.51 L339.76,487.99 L339.94,488.48 L340.20,488.97 L340.52,489.45 L340.88,489.94 L341.27,490.43 L341.66,490.92 L342.14,491.40 L342.75,491.89 L343.47,492.38 L344.26,492.86 L345.10,493.35 L345.94,493.84 L346.76,494.32 L347.56,494.81 L348.41,495.30 L349.29,495.79 L350.19,496.27 L351.08,496.76 L351.94,497.25 L352.74,497.73 L353.48,498.22 L354.18,498.71 L354.88,499.19 L355.56,499.68 L356.20,500.17 L356.78,500.66 L357.30,501.14 L357.72,501.63 L358.06,502.12 L358.35,502.60 L358.60,503.09 L358.83,503.58 L359.04,504.06 L359.24,504.55 L359.44,505.04 L359.66,505.53 L359.88,506.01 L360.10,506.50 L360.10,506.50 Z" fill="#e8a06c" stroke="#5a5a5a" stroke-width="1.1" stroke-linejoin="round"/>
<path d="M360.10,469.00 L360.10,469.00 L360.41,469.49 L360.73,469.97 L361.09,470.46 L361.45,470.95 L361.84,471.44 L362.25,471.92 L362.69,472.41 L363.17,472.90 L363.70,473.38 L364.30,473.87 L365.06,474.36 L365.94,474.85 L366.90,475.33 L367.90,475.82 L368.90,476.31 L369.85,476.79 L370.72,477.28 L371.51,477.77 L372.28,478.26 L373.04,478.74 L373.77,479.23 L374.48,479.72 L375.18,480.21 L375.86,480.69 L376.54,481.18 L377.23,481.67 L377.91,482.15 L378.58,482.64 L379.23,483.13 L379.82,483.62 L380.36,484.10 L380.83,484.59 L381.30,485.08 L381.77,485.56 L382.19,486.05 L382.52,486.54 L382.72,487.03 L382.73,487.51 L382.59,488.00 L382.31,488.49 L381.93,488.97 L381.47,489.46 L380.94,489.95 L380.39,490.44 L379.82,490.92 L379.13,491.41 L378.24,491.90 L377.20,492.38 L376.09,492.87 L374.95,493.36 L373.86,493.85 L372.86,494.33 L371.98,494.82 L371.12,495.31 L370.27,495.79 L369.45,496.28 L368.67,496.77 L367.93,497.26 L367.24,497.74 L366.61,498.23 L366.03,498.72 L365.47,499.21 L364.94,499.69 L364.44,500.18 L363.98,500.67 L363.55,501.15 L363.17,501.64 L362.82,502.13 L362.51,502.62 L362.22,503.10 L361.96,503.59 L361.70,504.08 L361.45,504.56 L361.20,505.05 L360.93,505.54 L360.65,506.03 L360.38,506.51 L360.10,507.00 L360.10,507.00 Z" fill="#65a8e0" stroke="#5a5a5a" stroke-width="1.1" stroke-linejoin="round"/>
<line x1="344.4" y1="481.8" x2="360.1" y2="481.8" stroke="#5a5a5a" stroke-width="1.1" stroke-dasharray="2 1.6"/>
<line x1="340.3" y1="487.5" x2="360.1" y2="487.5" stroke="#5a5a5a" stroke-width="1.1" stroke-dasharray="4 2.5"/>
<line x1="344.0" y1="492.3" x2="360.1" y2="492.3" stroke="#5a5a5a" stroke-width="1.1" stroke-dasharray="2 1.6"/>
<line x1="360.1" y1="482.1" x2="377.2" y2="482.1" stroke="#5a5a5a" stroke-width="1.1" stroke-dasharray="2 1.6"/>
<line x1="360.1" y1="487.0" x2="382.1" y2="487.0" stroke="#5a5a5a" stroke-width="1.1" stroke-dasharray="4 2.5"/>
<line x1="360.1" y1="492.3" x2="376.8" y2="492.3" stroke="#5a5a5a" stroke-width="1.1" stroke-dasharray="2 1.6"/>
<path d="M360.1,452.7 L360.1,471.0 M360.1,505.0 L360.1,521.9" stroke="#5a5a5a" stroke-width="1.8" fill="none"/>
<line x1="360.1" y1="469.0" x2="360.1" y2="507.0" stroke="#5a5a5a" stroke-width="1.0" />
<path d="M417.40,452.00 L417.40,452.00 L417.21,452.49 L417.02,452.99 L416.81,453.48 L416.58,453.98 L416.32,454.47 L416.06,454.97 L415.78,455.46 L415.49,455.95 L415.19,456.45 L414.89,456.94 L414.60,457.44 L414.30,457.93 L414.02,458.43 L413.75,458.92 L413.48,459.41 L413.23,459.91 L412.97,460.40 L412.72,460.90 L412.48,461.39 L412.23,461.89 L411.99,462.38 L411.75,462.88 L411.50,463.37 L411.26,463.86 L411.02,464.36 L410.77,464.85 L410.53,465.35 L410.28,465.84 L410.03,466.34 L409.79,466.83 L409.55,467.32 L409.32,467.82 L409.08,468.31 L408.85,468.81 L408.62,469.30 L408.38,469.80 L408.14,470.29 L407.88,470.78 L407.62,471.28 L407.35,471.77 L407.07,472.27 L406.77,472.76 L406.45,473.26 L406.10,473.75 L405.72,474.24 L405.32,474.74 L404.90,475.23 L404.46,475.73 L404.01,476.22 L403.55,476.72 L403.09,477.21 L402.63,477.70 L402.18,478.20 L401.74,478.69 L401.30,479.19 L400.82,479.68 L400.32,480.18 L399.81,480.67 L399.29,481.17 L398.79,481.66 L398.31,482.15 L397.86,482.65 L397.47,483.14 L397.13,483.64 L396.86,484.13 L396.67,484.63 L396.49,485.12 L396.33,485.61 L396.19,486.11 L396.10,486.60 L396.05,487.10 L396.08,487.59 L396.19,488.09 L396.38,488.58 L396.63,489.07 L396.92,489.57 L397.24,490.06 L397.58,490.56 L397.92,491.05 L398.25,491.55 L398.63,492.04 L399.07,492.53 L399.55,493.03 L400.08,493.52 L400.62,494.02 L401.18,494.51 L401.74,495.01 L402.28,495.50 L402.81,496.00 L403.30,496.49 L403.74,496.98 L404.14,497.48 L404.53,497.97 L404.91,498.47 L405.28,498.96 L405.64,499.46 L406.00,499.95 L406.34,500.44 L406.68,500.94 L407.01,501.43 L407.34,501.93 L407.66,502.42 L407.98,502.92 L408.30,503.41 L408.62,503.90 L408.94,504.40 L409.26,504.89 L409.57,505.39 L409.88,505.88 L410.19,506.38 L410.50,506.87 L410.80,507.36 L411.09,507.86 L411.39,508.35 L411.68,508.85 L411.96,509.34 L412.25,509.84 L412.53,510.33 L412.80,510.82 L413.07,511.32 L413.34,511.81 L413.62,512.31 L413.90,512.80 L414.17,513.30 L414.45,513.79 L414.72,514.29 L414.98,514.78 L415.23,515.27 L415.48,515.77 L415.71,516.26 L415.93,516.76 L416.14,517.25 L416.33,517.75 L416.50,518.24 L416.65,518.73 L416.79,519.23 L416.91,519.72 L417.03,520.22 L417.15,520.71 L417.27,521.21 L417.40,521.70 L417.40,521.70 Z" fill="#e8a06c" stroke="#5a5a5a" stroke-width="1.1" stroke-linejoin="round"/>
<path d="M417.40,452.00 L417.40,452.00 L417.63,452.49 L417.85,452.99 L418.09,453.48 L418.34,453.97 L418.59,454.46 L418.85,454.96 L419.11,455.45 L419.38,455.94 L419.65,456.44 L419.92,456.93 L420.20,457.42 L420.48,457.91 L420.76,458.41 L421.04,458.90 L421.32,459.39 L421.60,459.88 L421.89,460.38 L422.18,460.87 L422.47,461.36 L422.77,461.86 L423.07,462.35 L423.36,462.84 L423.66,463.33 L423.96,463.83 L424.26,464.32 L424.57,464.81 L424.87,465.31 L425.17,465.80 L425.47,466.29 L425.77,466.78 L426.08,467.28 L426.39,467.77 L426.70,468.26 L427.02,468.76 L427.33,469.25 L427.64,469.74 L427.95,470.23 L428.26,470.73 L428.56,471.22 L428.86,471.71 L429.15,472.21 L429.43,472.70 L429.70,473.19 L429.95,473.68 L430.19,474.18 L430.42,474.67 L430.64,475.16 L430.86,475.65 L431.08,476.15 L431.30,476.64 L431.53,477.13 L431.78,477.63 L432.05,478.12 L432.33,478.61 L432.65,479.10 L433.02,479.60 L433.43,480.09 L433.87,480.58 L434.34,481.08 L434.82,481.57 L435.30,482.06 L435.78,482.55 L436.24,483.05 L436.68,483.54 L437.08,484.03 L437.44,484.53 L437.81,485.02 L438.20,485.51 L438.60,486.00 L438.97,486.50 L439.30,486.99 L439.57,487.48 L439.76,487.97 L439.85,488.47 L439.82,488.96 L439.69,489.45 L439.48,489.95 L439.19,490.44 L438.85,490.93 L438.47,491.42 L438.07,491.92 L437.66,492.41 L437.27,492.90 L436.82,493.40 L436.29,493.89 L435.69,494.38 L435.06,494.87 L434.39,495.37 L433.70,495.86 L433.01,496.35 L432.33,496.85 L431.68,497.34 L431.08,497.83 L430.53,498.32 L430.04,498.82 L429.58,499.31 L429.13,499.80 L428.70,500.29 L428.28,500.79 L427.87,501.28 L427.48,501.77 L427.09,502.27 L426.71,502.76 L426.33,503.25 L425.96,503.74 L425.59,504.24 L425.23,504.73 L424.86,505.22 L424.49,505.72 L424.11,506.21 L423.72,506.70 L423.34,507.19 L422.95,507.69 L422.56,508.18 L422.19,508.67 L421.82,509.17 L421.46,509.66 L421.11,510.15 L420.78,510.64 L420.48,511.14 L420.19,511.63 L419.93,512.12 L419.70,512.62 L419.47,513.11 L419.24,513.60 L419.01,514.09 L418.78,514.59 L418.56,515.08 L418.35,515.57 L418.15,516.06 L417.97,516.56 L417.81,517.05 L417.67,517.54 L417.56,518.04 L417.47,518.53 L417.42,519.02 L417.40,519.51 L417.40,520.01 L417.40,520.50 L417.40,520.50 Z" fill="#65a8e0" stroke="#5a5a5a" stroke-width="1.1" stroke-linejoin="round"/>
<line x1="402.9" y1="478.1" x2="417.4" y2="478.1" stroke="#5a5a5a" stroke-width="1.1" stroke-dasharray="2 1.6"/>
<line x1="396.7" y1="486.9" x2="417.4" y2="486.9" stroke="#5a5a5a" stroke-width="1.1" stroke-dasharray="4 2.5"/>
<line x1="402.8" y1="495.4" x2="417.4" y2="495.4" stroke="#5a5a5a" stroke-width="1.1" stroke-dasharray="2 1.6"/>
<line x1="417.4" y1="477.1" x2="430.9" y2="477.1" stroke="#5a5a5a" stroke-width="1.1" stroke-dasharray="2 1.6"/>
<line x1="417.4" y1="487.6" x2="439.0" y2="487.6" stroke="#5a5a5a" stroke-width="1.1" stroke-dasharray="4 2.5"/>
<line x1="417.4" y1="494.9" x2="434.4" y2="494.9" stroke="#5a5a5a" stroke-width="1.1" stroke-dasharray="2 1.6"/>
<path d="M417.4,438.2 L417.4,454.0 M417.4,519.7 L417.4,553.8" stroke="#5a5a5a" stroke-width="1.8" fill="none"/>
<line x1="417.4" y1="452.0" x2="417.4" y2="521.7" stroke="#5a5a5a" stroke-width="1.0" />
<text x="257.3" y="419.4" font-size="21" text-anchor="start" font-weight="normal" fill="#000" >f</text>
<text x="247.37" y="448.90" font-size="8.2" font-weight="normal" fill="#4a4a4a" textLength="18.96" lengthAdjust="spacingAndGlyphs" >1600</text>
<text x="247.37" y="470.20" font-size="8.2" font-weight="normal" fill="#4a4a4a" textLength="18.96" lengthAdjust="spacingAndGlyphs" >1400</text>
<text x="247.37" y="490.80" font-size="8.2" font-weight="normal" fill="#4a4a4a" textLength="18.96" lengthAdjust="spacingAndGlyphs" >1200</text>
<text x="247.37" y="512.10" font-size="8.2" font-weight="normal" fill="#4a4a4a" textLength="18.96" lengthAdjust="spacingAndGlyphs" >1000</text>
<text x="251.97" y="533.10" font-size="8.2" font-weight="normal" fill="#4a4a4a" textLength="14.36" lengthAdjust="spacingAndGlyphs" >800</text>
<text x="251.97" y="554.40" font-size="8.2" font-weight="normal" fill="#4a4a4a" textLength="14.36" lengthAdjust="spacingAndGlyphs" >600</text>
<text x="288.76" y="573.30" font-size="8.4" font-weight="normal" fill="#333" textLength="26.97" lengthAdjust="spacingAndGlyphs" >Control</text>
<text x="349.06" y="573.30" font-size="8.4" font-weight="normal" fill="#333" textLength="22.67" lengthAdjust="spacingAndGlyphs" >NaCN</text>
<text x="408.36" y="573.30" font-size="8.4" font-weight="normal" fill="#333" textLength="16.67" lengthAdjust="spacingAndGlyphs" >2DG</text>
<text x="0" y="0" text-anchor="middle" font-size="8.3" font-weight="normal" fill="#333" textLength="49.16" lengthAdjust="spacingAndGlyphs" transform="translate(239.70,497.55) rotate(-90)" >FAD τ<tspan font-size="6.2" font-style="italic" dy="1.6">m</tspan><tspan dy="-1.6"> (ps)</tspan></text>
<line x1="298.9" y1="424.4" x2="415.1" y2="424.4" stroke="#555" stroke-width="1.1" />
<line x1="298.9" y1="445.3" x2="355.8" y2="445.3" stroke="#555" stroke-width="1.1" />
<line x1="494.8" y1="429.2" x2="494.8" y2="556.9" stroke="#555" stroke-width="1.1" />
<line x1="494.8" y1="556.9" x2="664.2" y2="556.9" stroke="#555" stroke-width="1.1" />
<path d="M523.90,447.00 L523.90,447.00 L523.75,447.49 L523.59,447.98 L523.39,448.47 L523.15,448.97 L522.87,449.46 L522.57,449.95 L522.25,450.44 L521.91,450.93 L521.56,451.42 L521.21,451.91 L520.86,452.40 L520.51,452.90 L520.16,453.39 L519.79,453.88 L519.41,454.37 L519.02,454.86 L518.63,455.35 L518.23,455.84 L517.82,456.33 L517.42,456.83 L517.01,457.32 L516.61,457.81 L516.21,458.30 L515.82,458.79 L515.43,459.28 L515.04,459.77 L514.66,460.27 L514.28,460.76 L513.89,461.25 L513.50,461.74 L513.11,462.23 L512.71,462.72 L512.30,463.21 L511.88,463.70 L511.44,464.20 L510.99,464.69 L510.52,465.18 L510.03,465.67 L509.53,466.16 L509.01,466.65 L508.50,467.14 L508.00,467.63 L507.50,468.13 L507.02,468.62 L506.55,469.11 L506.06,469.60 L505.55,470.09 L505.03,470.58 L504.52,471.07 L504.04,471.57 L503.60,472.06 L503.21,472.55 L502.90,473.04 L502.67,473.53 L502.51,474.02 L502.37,474.51 L502.25,475.00 L502.17,475.50 L502.15,475.99 L502.23,476.48 L502.40,476.97 L502.66,477.46 L502.98,477.95 L503.35,478.44 L503.75,478.93 L504.17,479.43 L504.58,479.92 L504.98,480.41 L505.37,480.90 L505.80,481.39 L506.25,481.88 L506.74,482.37 L507.23,482.87 L507.75,483.36 L508.26,483.85 L508.77,484.34 L509.28,484.83 L509.77,485.32 L510.26,485.81 L510.75,486.30 L511.23,486.80 L511.72,487.29 L512.22,487.78 L512.71,488.27 L513.20,488.76 L513.70,489.25 L514.19,489.74 L514.70,490.23 L515.22,490.73 L515.74,491.22 L516.27,491.71 L516.80,492.20 L517.32,492.69 L517.82,493.18 L518.30,493.67 L518.75,494.17 L519.17,494.66 L519.57,495.15 L519.97,495.64 L520.36,496.13 L520.73,496.62 L521.09,497.11 L521.44,497.60 L521.76,498.10 L522.06,498.59 L522.34,499.08 L522.61,499.57 L522.89,500.06 L523.17,500.55 L523.42,501.04 L523.62,501.53 L523.77,502.03 L523.85,502.52 L523.88,503.01 L523.90,503.50 L523.90,503.50 Z" fill="#e8a06c" stroke="#5a5a5a" stroke-width="1.1" stroke-linejoin="round"/>
<path d="M523.90,447.00 L523.90,447.00 L524.00,447.49 L524.11,447.98 L524.30,448.47 L524.60,448.96 L524.97,449.45 L525.40,449.95 L525.86,450.44 L526.33,450.93 L526.79,451.42 L527.22,451.91 L527.68,452.40 L528.16,452.89 L528.65,453.38 L529.14,453.87 L529.64,454.36 L530.12,454.86 L530.59,455.35 L531.04,455.84 L531.46,456.33 L531.86,456.82 L532.26,457.31 L532.65,457.80 L533.03,458.29 L533.39,458.78 L533.75,459.27 L534.09,459.77 L534.41,460.26 L534.72,460.75 L535.00,461.24 L535.25,461.73 L535.48,462.22 L535.71,462.71 L535.94,463.20 L536.19,463.69 L536.48,464.18 L536.80,464.68 L537.16,465.17 L537.56,465.66 L537.98,466.15 L538.42,466.64 L538.87,467.13 L539.34,467.62 L539.81,468.11 L540.27,468.60 L540.74,469.09 L541.24,469.59 L541.78,470.08 L542.34,470.57 L542.90,471.06 L543.45,471.55 L543.97,472.04 L544.45,472.53 L544.86,473.02 L545.20,473.51 L545.48,474.00 L545.76,474.50 L546.02,474.99 L546.25,475.48 L546.44,475.97 L546.58,476.46 L546.65,476.95 L546.62,477.44 L546.46,477.93 L546.18,478.42 L545.82,478.91 L545.38,479.41 L544.89,479.90 L544.37,480.39 L543.83,480.88 L543.29,481.37 L542.78,481.86 L542.21,482.35 L541.57,482.84 L540.88,483.33 L540.15,483.82 L539.40,484.32 L538.65,484.81 L537.92,485.30 L537.22,485.79 L536.58,486.28 L535.97,486.77 L535.37,487.26 L534.78,487.75 L534.21,488.24 L533.65,488.73 L533.10,489.23 L532.57,489.72 L532.05,490.21 L531.55,490.70 L531.07,491.19 L530.59,491.68 L530.13,492.17 L529.68,492.66 L529.24,493.15 L528.81,493.64 L528.39,494.14 L528.00,494.63 L527.61,495.12 L527.24,495.61 L526.89,496.10 L526.53,496.59 L526.18,497.08 L525.84,497.57 L525.52,498.06 L525.21,498.55 L524.92,499.05 L524.66,499.54 L524.43,500.03 L524.23,500.52 L524.06,501.01 L523.90,501.50 L523.90,501.50 Z" fill="#65a8e0" stroke="#5a5a5a" stroke-width="1.1" stroke-linejoin="round"/>
<line x1="509.4" y1="466.9" x2="523.9" y2="466.9" stroke="#5a5a5a" stroke-width="1.1" stroke-dasharray="2 1.6"/>
<line x1="502.8" y1="475.3" x2="523.9" y2="475.3" stroke="#5a5a5a" stroke-width="1.1" stroke-dasharray="4 2.5"/>
<line x1="507.5" y1="482.5" x2="523.9" y2="482.5" stroke="#5a5a5a" stroke-width="1.1" stroke-dasharray="2 1.6"/>
<line x1="523.9" y1="466.9" x2="538.1" y2="466.9" stroke="#5a5a5a" stroke-width="1.1" stroke-dasharray="2 1.6"/>
<line x1="523.9" y1="474.5" x2="545.2" y2="474.5" stroke="#5a5a5a" stroke-width="1.1" stroke-dasharray="4 2.5"/>
<line x1="523.9" y1="481.3" x2="542.8" y2="481.3" stroke="#5a5a5a" stroke-width="1.1" stroke-dasharray="2 1.6"/>
<path d="M523.9,441.0 L523.9,449.0 M523.9,501.5 L523.9,523.0" stroke="#5a5a5a" stroke-width="1.8" fill="none"/>
<line x1="523.9" y1="447.0" x2="523.9" y2="503.5" stroke="#5a5a5a" stroke-width="1.0" />
<path d="M581.40,445.50 L581.40,445.50 L581.21,445.99 L581.01,446.48 L580.74,446.97 L580.42,447.46 L580.05,447.95 L579.63,448.44 L579.19,448.94 L578.71,449.43 L578.22,449.92 L577.70,450.41 L577.18,450.90 L576.64,451.39 L576.04,451.88 L575.39,452.37 L574.69,452.86 L573.97,453.35 L573.23,453.84 L572.51,454.33 L571.80,454.82 L571.15,455.31 L570.54,455.81 L569.98,456.30 L569.43,456.79 L568.89,457.28 L568.37,457.77 L567.86,458.26 L567.38,458.75 L566.92,459.24 L566.48,459.73 L566.07,460.22 L565.69,460.71 L565.32,461.20 L564.97,461.69 L564.64,462.19 L564.32,462.68 L564.02,463.17 L563.73,463.66 L563.45,464.15 L563.19,464.64 L562.94,465.13 L562.68,465.62 L562.41,466.11 L562.13,466.60 L561.87,467.09 L561.62,467.58 L561.41,468.07 L561.23,468.56 L561.11,469.06 L561.05,469.55 L561.06,470.04 L561.08,470.53 L561.13,471.02 L561.19,471.51 L561.27,472.00 L561.37,472.49 L561.48,472.98 L561.60,473.47 L561.73,473.96 L561.87,474.45 L562.07,474.94 L562.36,475.44 L562.72,475.93 L563.15,476.42 L563.63,476.91 L564.14,477.40 L564.66,477.89 L565.19,478.38 L565.72,478.87 L566.24,479.36 L566.81,479.85 L567.43,480.34 L568.08,480.83 L568.74,481.32 L569.41,481.81 L570.06,482.31 L570.70,482.80 L571.29,483.29 L571.85,483.78 L572.38,484.27 L572.91,484.76 L573.43,485.25 L573.94,485.74 L574.43,486.23 L574.90,486.72 L575.35,487.21 L575.77,487.70 L576.17,488.19 L576.54,488.69 L576.90,489.18 L577.24,489.67 L577.56,490.16 L577.87,490.65 L578.17,491.14 L578.46,491.63 L578.74,492.12 L579.00,492.61 L579.25,493.10 L579.50,493.59 L579.75,494.08 L579.98,494.57 L580.21,495.06 L580.43,495.56 L580.63,496.05 L580.83,496.54 L581.00,497.03 L581.16,497.52 L581.28,498.01 L581.40,498.50 L581.40,498.50 Z" fill="#e8a06c" stroke="#5a5a5a" stroke-width="1.1" stroke-linejoin="round"/>
<path d="M581.40,445.50 L581.40,445.50 L581.82,445.99 L582.25,446.48 L582.67,446.97 L583.08,447.46 L583.49,447.95 L583.89,448.44 L584.30,448.93 L584.72,449.42 L585.15,449.91 L585.59,450.40 L586.05,450.89 L586.53,451.38 L587.04,451.87 L587.58,452.36 L588.13,452.85 L588.70,453.34 L589.29,453.83 L589.87,454.32 L590.47,454.81 L591.06,455.30 L591.64,455.79 L592.23,456.28 L592.84,456.77 L593.46,457.26 L594.09,457.75 L594.71,458.24 L595.32,458.73 L595.92,459.22 L596.49,459.71 L597.04,460.20 L597.55,460.69 L598.04,461.18 L598.52,461.67 L598.99,462.16 L599.45,462.65 L599.89,463.14 L600.31,463.63 L600.71,464.12 L601.09,464.61 L601.45,465.10 L601.82,465.59 L602.20,466.08 L602.59,466.57 L602.96,467.06 L603.31,467.55 L603.62,468.04 L603.87,468.53 L604.05,469.02 L604.14,469.51 L604.14,470.00 L604.09,470.50 L604.00,470.99 L603.88,471.48 L603.72,471.97 L603.54,472.46 L603.34,472.95 L603.12,473.44 L602.88,473.93 L602.64,474.42 L602.34,474.91 L601.93,475.40 L601.43,475.89 L600.86,476.38 L600.25,476.87 L599.59,477.36 L598.92,477.85 L598.24,478.34 L597.58,478.83 L596.92,479.32 L596.22,479.81 L595.48,480.30 L594.70,480.79 L593.92,481.28 L593.14,481.77 L592.37,482.26 L591.63,482.75 L590.93,483.24 L590.29,483.73 L589.67,484.22 L589.05,484.71 L588.46,485.20 L587.87,485.69 L587.32,486.18 L586.78,486.67 L586.28,487.16 L585.81,487.65 L585.38,488.14 L584.99,488.63 L584.62,489.12 L584.28,489.61 L583.95,490.10 L583.64,490.59 L583.35,491.08 L583.07,491.57 L582.79,492.06 L582.53,492.55 L582.28,493.04 L582.05,493.53 L581.83,494.02 L581.62,494.51 L581.40,495.00 L581.40,495.00 Z" fill="#65a8e0" stroke="#5a5a5a" stroke-width="1.1" stroke-linejoin="round"/>
<line x1="564.7" y1="463.0" x2="581.4" y2="463.0" stroke="#5a5a5a" stroke-width="1.1" stroke-dasharray="2 1.6"/>
<line x1="561.7" y1="470.9" x2="581.4" y2="470.9" stroke="#5a5a5a" stroke-width="1.1" stroke-dasharray="4 2.5"/>
<line x1="565.2" y1="477.8" x2="581.4" y2="477.8" stroke="#5a5a5a" stroke-width="1.1" stroke-dasharray="2 1.6"/>
<line x1="581.4" y1="463.4" x2="599.5" y2="463.4" stroke="#5a5a5a" stroke-width="1.1" stroke-dasharray="2 1.6"/>
<line x1="581.4" y1="469.7" x2="603.5" y2="469.7" stroke="#5a5a5a" stroke-width="1.1" stroke-dasharray="4 2.5"/>
<line x1="581.4" y1="476.1" x2="600.6" y2="476.1" stroke="#5a5a5a" stroke-width="1.1" stroke-dasharray="2 1.6"/>
<path d="M581.4,436.3 L581.4,447.5 M581.4,496.5 L581.4,518.7" stroke="#5a5a5a" stroke-width="1.8" fill="none"/>
<line x1="581.4" y1="445.5" x2="581.4" y2="498.5" stroke="#5a5a5a" stroke-width="1.0" />
<path d="M639.10,448.50 L639.10,448.50 L639.01,448.99 L638.91,449.49 L638.81,449.98 L638.71,450.47 L638.60,450.96 L638.48,451.46 L638.37,451.95 L638.25,452.44 L638.13,452.94 L638.00,453.43 L637.88,453.92 L637.75,454.41 L637.61,454.91 L637.48,455.40 L637.34,455.89 L637.21,456.38 L637.07,456.88 L636.93,457.37 L636.79,457.86 L636.64,458.36 L636.48,458.85 L636.32,459.34 L636.15,459.83 L635.96,460.33 L635.77,460.82 L635.56,461.31 L635.33,461.81 L635.08,462.30 L634.82,462.79 L634.54,463.28 L634.24,463.78 L633.92,464.27 L633.58,464.76 L633.22,465.26 L632.84,465.75 L632.44,466.24 L632.02,466.73 L631.53,467.23 L630.95,467.72 L630.29,468.21 L629.57,468.71 L628.82,469.20 L628.05,469.69 L627.28,470.18 L626.53,470.68 L625.82,471.17 L625.17,471.66 L624.60,472.15 L624.11,472.65 L623.64,473.14 L623.19,473.63 L622.74,474.13 L622.32,474.62 L621.91,475.11 L621.53,475.60 L621.18,476.10 L620.86,476.59 L620.57,477.08 L620.33,477.58 L620.12,478.07 L619.94,478.56 L619.75,479.05 L619.58,479.55 L619.42,480.04 L619.28,480.53 L619.17,481.03 L619.09,481.52 L619.05,482.01 L619.06,482.50 L619.10,483.00 L619.19,483.49 L619.30,483.98 L619.44,484.47 L619.61,484.97 L619.80,485.46 L620.00,485.95 L620.22,486.45 L620.45,486.94 L620.68,487.43 L620.91,487.92 L621.19,488.42 L621.52,488.91 L621.90,489.40 L622.32,489.90 L622.77,490.39 L623.24,490.88 L623.72,491.37 L624.21,491.87 L624.69,492.36 L625.16,492.85 L625.61,493.35 L626.05,493.84 L626.49,494.33 L626.93,494.82 L627.39,495.32 L627.84,495.81 L628.29,496.30 L628.74,496.79 L629.17,497.29 L629.60,497.78 L630.01,498.27 L630.40,498.77 L630.77,499.26 L631.12,499.75 L631.47,500.24 L631.81,500.74 L632.14,501.23 L632.46,501.72 L632.78,502.22 L633.08,502.71 L633.38,503.20 L633.67,503.69 L633.96,504.19 L634.24,504.68 L634.52,505.17 L634.79,505.67 L635.06,506.16 L635.33,506.65 L635.59,507.14 L635.84,507.64 L636.09,508.13 L636.33,508.62 L636.55,509.12 L636.77,509.61 L636.97,510.10 L637.16,510.59 L637.34,511.09 L637.52,511.58 L637.69,512.07 L637.85,512.56 L638.00,513.06 L638.15,513.55 L638.30,514.04 L638.44,514.54 L638.58,515.03 L638.72,515.52 L638.85,516.01 L638.98,516.51 L639.10,517.00 L639.10,517.00 Z" fill="#e8a06c" stroke="#5a5a5a" stroke-width="1.1" stroke-linejoin="round"/>
<path d="M639.10,450.00 L639.10,450.00 L639.19,450.49 L639.28,450.98 L639.39,451.48 L639.51,451.97 L639.65,452.46 L639.79,452.95 L639.94,453.45 L640.10,453.94 L640.27,454.43 L640.44,454.92 L640.62,455.42 L640.80,455.91 L640.99,456.40 L641.18,456.89 L641.38,457.38 L641.58,457.88 L641.78,458.37 L641.98,458.86 L642.18,459.35 L642.38,459.85 L642.58,460.34 L642.79,460.83 L643.01,461.32 L643.23,461.82 L643.47,462.31 L643.72,462.80 L643.98,463.29 L644.26,463.78 L644.56,464.28 L644.88,464.77 L645.22,465.26 L645.61,465.75 L646.08,466.25 L646.60,466.74 L647.18,467.23 L647.81,467.72 L648.46,468.22 L649.14,468.71 L649.83,469.20 L650.51,469.69 L651.19,470.18 L651.84,470.68 L652.46,471.17 L653.12,471.66 L653.80,472.15 L654.51,472.65 L655.22,473.14 L655.93,473.63 L656.62,474.12 L657.28,474.62 L657.89,475.11 L658.45,475.60 L658.94,476.09 L659.34,476.58 L659.70,477.08 L660.05,477.57 L660.40,478.06 L660.73,478.55 L661.04,479.05 L661.31,479.54 L661.53,480.03 L661.70,480.52 L661.81,481.02 L661.85,481.51 L661.79,482.00 L661.63,482.49 L661.38,482.98 L661.07,483.48 L660.70,483.97 L660.29,484.46 L659.86,484.95 L659.43,485.45 L659.01,485.94 L658.63,486.43 L658.23,486.92 L657.80,487.42 L657.34,487.91 L656.86,488.40 L656.37,488.89 L655.88,489.38 L655.40,489.88 L654.93,490.37 L654.50,490.86 L654.10,491.35 L653.75,491.85 L653.45,492.34 L653.19,492.83 L652.96,493.32 L652.75,493.82 L652.55,494.31 L652.34,494.80 L652.11,495.29 L651.86,495.78 L651.56,496.28 L651.22,496.77 L650.81,497.26 L650.36,497.75 L649.87,498.25 L649.35,498.74 L648.81,499.23 L648.26,499.72 L647.70,500.22 L647.16,500.71 L646.64,501.20 L646.15,501.69 L645.68,502.18 L645.20,502.68 L644.71,503.17 L644.21,503.66 L643.71,504.15 L643.23,504.65 L642.76,505.14 L642.33,505.63 L641.92,506.12 L641.56,506.62 L641.25,507.11 L641.00,507.60 L640.78,508.09 L640.58,508.58 L640.38,509.08 L640.21,509.57 L640.04,510.06 L639.89,510.55 L639.74,511.05 L639.61,511.54 L639.49,512.03 L639.37,512.52 L639.27,513.02 L639.18,513.51 L639.10,514.00 L639.10,514.00 Z" fill="#65a8e0" stroke="#5a5a5a" stroke-width="1.1" stroke-linejoin="round"/>
<line x1="622.3" y1="475.4" x2="639.1" y2="475.4" stroke="#5a5a5a" stroke-width="1.1" stroke-dasharray="2 1.6"/>
<line x1="619.7" y1="483.2" x2="639.1" y2="483.2" stroke="#5a5a5a" stroke-width="1.1" stroke-dasharray="4 2.5"/>
<line x1="624.2" y1="491.3" x2="639.1" y2="491.3" stroke="#5a5a5a" stroke-width="1.1" stroke-dasharray="2 1.6"/>
<line x1="639.1" y1="477.3" x2="659.3" y2="477.3" stroke="#5a5a5a" stroke-width="1.1" stroke-dasharray="2 1.6"/>
<line x1="639.1" y1="483.9" x2="660.1" y2="483.9" stroke="#5a5a5a" stroke-width="1.1" stroke-dasharray="4 2.5"/>
<line x1="639.1" y1="492.7" x2="652.7" y2="492.7" stroke="#5a5a5a" stroke-width="1.1" stroke-dasharray="2 1.6"/>
<path d="M639.1,441.0 L639.1,450.5 M639.1,515.0 L639.1,552.5" stroke="#5a5a5a" stroke-width="1.8" fill="none"/>
<line x1="639.1" y1="448.5" x2="639.1" y2="517.0" stroke="#5a5a5a" stroke-width="1.0" />
<text x="451.3" y="418.3" font-size="20.5" text-anchor="start" font-weight="normal" fill="#000" font-family="Liberation Serif, serif">g</text>
<text x="474.67" y="434.00" font-size="8.2" font-weight="normal" fill="#4a4a4a" textLength="12.66" lengthAdjust="spacingAndGlyphs" >0.9</text>
<text x="474.67" y="464.80" font-size="8.2" font-weight="normal" fill="#4a4a4a" textLength="12.66" lengthAdjust="spacingAndGlyphs" >0.8</text>
<text x="474.67" y="494.90" font-size="8.2" font-weight="normal" fill="#4a4a4a" textLength="12.66" lengthAdjust="spacingAndGlyphs" >0.7</text>
<text x="474.67" y="524.70" font-size="8.2" font-weight="normal" fill="#4a4a4a" textLength="12.66" lengthAdjust="spacingAndGlyphs" >0.6</text>
<text x="474.67" y="554.80" font-size="8.2" font-weight="normal" fill="#4a4a4a" textLength="12.66" lengthAdjust="spacingAndGlyphs" >0.5</text>
<text x="509.66" y="571.30" font-size="8.4" font-weight="normal" fill="#333" textLength="28.27" lengthAdjust="spacingAndGlyphs" >Control</text>
<text x="569.76" y="571.30" font-size="8.4" font-weight="normal" fill="#333" textLength="22.67" lengthAdjust="spacingAndGlyphs" >NaCN</text>
<text x="630.06" y="571.30" font-size="8.4" font-weight="normal" fill="#333" textLength="16.67" lengthAdjust="spacingAndGlyphs" >2DG</text>
<text x="0" y="0" text-anchor="middle" font-size="8.2" font-weight="normal" fill="#333" textLength="83.16" lengthAdjust="spacingAndGlyphs" transform="translate(459.90,494.35) rotate(-90)" >Optical Redox Ratio</text>
<text x="0" y="0" text-anchor="middle" font-size="8.4" font-weight="normal" fill="#333" textLength="107.57" lengthAdjust="spacingAndGlyphs" transform="translate(469.60,495.35) rotate(-90)" >NAD(P)H/[FAD+NAD(P)H]</text>
<line x1="521.1" y1="413.0" x2="637.9" y2="413.0" stroke="#555" stroke-width="1.1" />
<line x1="521.1" y1="434.4" x2="578.3" y2="434.4" stroke="#555" stroke-width="1.1" />
<text x="116.36" y="421.40" font-size="11" font-weight="bold" fill="#ee7d32" textLength="24.78" lengthAdjust="spacingAndGlyphs" >1.13</text>
<text x="116.66" y="436.30" font-size="11" font-weight="bold" fill="#4472c4" textLength="24.48" lengthAdjust="spacingAndGlyphs" >1.13</text>
<text x="88.46" y="442.40" font-size="11" font-weight="bold" fill="#ee7d32" textLength="24.58" lengthAdjust="spacingAndGlyphs" >1.47</text>
<text x="87.96" y="456.70" font-size="11" font-weight="bold" fill="#4472c4" textLength="24.08" lengthAdjust="spacingAndGlyphs" >1.18</text>
<text x="344.06" y="420.60" font-size="11" font-weight="bold" fill="#ee7d32" textLength="25.18" lengthAdjust="spacingAndGlyphs" >0.33</text>
<text x="344.06" y="435.60" font-size="11" font-weight="bold" fill="#4472c4" textLength="24.98" lengthAdjust="spacingAndGlyphs" >0.24</text>
<text x="315.36" y="441.50" font-size="11" font-weight="bold" fill="#ee7d32" textLength="25.38" lengthAdjust="spacingAndGlyphs" >0.26</text>
<text x="314.26" y="455.40" font-size="11" font-weight="bold" fill="#4472c4" textLength="24.98" lengthAdjust="spacingAndGlyphs" >0.24</text>
<text x="565.66" y="409.10" font-size="11" font-weight="bold" fill="#ee7d32" textLength="25.28" lengthAdjust="spacingAndGlyphs" >0.38</text>
<text x="565.66" y="423.80" font-size="11" font-weight="bold" fill="#4472c4" textLength="25.28" lengthAdjust="spacingAndGlyphs" >0.35</text>
<text x="537.36" y="429.80" font-size="11" font-weight="bold" fill="#ee7d32" textLength="25.28" lengthAdjust="spacingAndGlyphs" >0.83</text>
<text x="536.66" y="444.10" font-size="11" font-weight="bold" fill="#4472c4" textLength="24.98" lengthAdjust="spacingAndGlyphs" >0.78</text>
<rect x="297.3" y="584" width="129" height="18.8" rx="3" fill="#fff" stroke="#a0a0a0" stroke-width="1.3"/>
<rect x="302.1" y="590.1" width="17.5" height="7.7" fill="#e8a06c" stroke="#8a6040" stroke-width="0.5"/>
<rect x="367.6" y="590.1" width="17.8" height="7.7" fill="#65a8e0" stroke="#406080" stroke-width="0.5"/>
<text x="322.46" y="596.40" font-size="8.4" font-weight="normal" fill="#222" textLength="28.37" lengthAdjust="spacingAndGlyphs" >Manual</text>
<text x="395.56" y="596.40" font-size="8.4" font-weight="bold" fill="#222" textLength="16.77" lengthAdjust="spacingAndGlyphs" >ATM</text>
</svg>
</body></html>
